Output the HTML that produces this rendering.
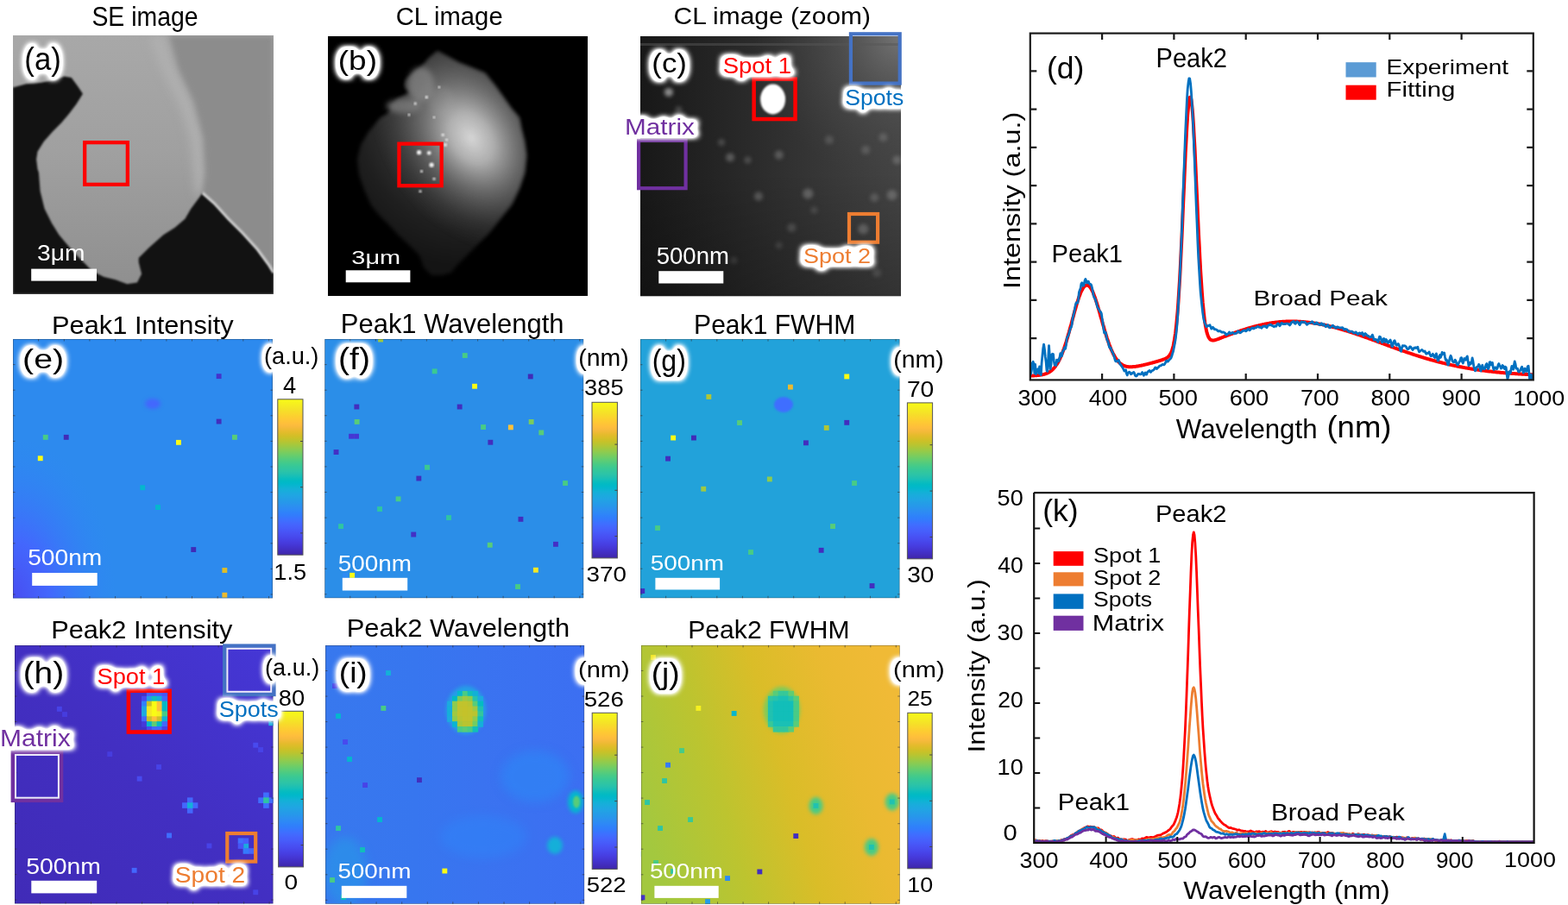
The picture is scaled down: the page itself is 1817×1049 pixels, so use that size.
<!DOCTYPE html>
<html><head><meta charset="utf-8"><title>CL mapping figure</title>
<style>html,body{margin:0;padding:0;background:#fff;overflow:hidden}svg{display:block}</style></head>
<body>
<svg width="1817" height="1049" viewBox="0 0 1817 1049" font-family="'Liberation Sans', Arial, sans-serif"><defs><filter id="gw" x="-40%" y="-40%" width="180%" height="180%" color-interpolation-filters="sRGB">
<feMorphology in="SourceAlpha" operator="dilate" radius="3.2" result="d"/>
<feGaussianBlur in="d" stdDeviation="3.2" result="b"/>
<feComponentTransfer in="b" result="c"><feFuncA type="linear" slope="2.4"/></feComponentTransfer>
<feFlood flood-color="#fff"/><feComposite in2="c" operator="in" result="g"/>
<feMerge><feMergeNode in="g"/><feMergeNode in="SourceGraphic"/></feMerge></filter><filter id="bl05" color-interpolation-filters="sRGB" x="-10%" y="-10%" width="120%" height="120%"><feGaussianBlur stdDeviation="0.6"/></filter><filter id="bl1" color-interpolation-filters="sRGB" x="-20%" y="-20%" width="140%" height="140%"><feGaussianBlur stdDeviation="1"/></filter><filter id="bl2" color-interpolation-filters="sRGB" x="-50%" y="-50%" width="200%" height="200%"><feGaussianBlur stdDeviation="2"/></filter><filter id="bl3" color-interpolation-filters="sRGB" x="-50%" y="-50%" width="200%" height="200%"><feGaussianBlur stdDeviation="3"/></filter><filter id="bl6" color-interpolation-filters="sRGB" x="-50%" y="-50%" width="200%" height="200%"><feGaussianBlur stdDeviation="6"/></filter><clipPath id="ca"><rect x="15" y="41" width="302" height="300"/></clipPath><linearGradient id="ga" x1="0" y1="41" x2="0" y2="341" gradientUnits="userSpaceOnUse"><stop offset="0" stop-color="#a8a8a8"/><stop offset="0.45" stop-color="#a0a0a0"/><stop offset="1" stop-color="#8e8e8e"/></linearGradient><clipPath id="cb"><rect x="380" y="42" width="301" height="301"/></clipPath><radialGradient id="gb0" gradientUnits="userSpaceOnUse" cx="545" cy="135" r="175">
<stop offset="0" stop-color="#5a5a5a"/><stop offset="0.4" stop-color="#3a3a3a"/><stop offset="0.75" stop-color="#1f1f1f"/><stop offset="1" stop-color="#141414"/></radialGradient><radialGradient id="gb" gradientUnits="userSpaceOnUse" cx="546" cy="160" r="130" gradientTransform="translate(546 160) rotate(-35) scale(0.78 1.1) translate(-546 -160)">
<stop offset="0" stop-color="#d6d6d6" stop-opacity="1"/><stop offset="0.22" stop-color="#b8b8b8" stop-opacity="0.92"/><stop offset="0.5" stop-color="#848484" stop-opacity="0.6"/><stop offset="0.78" stop-color="#606060" stop-opacity="0.22"/><stop offset="1" stop-color="#505050" stop-opacity="0"/></radialGradient><clipPath id="cbl"><path d="M507.0 59.0 L531.5 72.5 L562.0 84.7 L574.2 100.0 L585.0 115.2 L592.6 125.9 L601.7 136.6 L604.0 148.8 L607.8 164.0 L610.0 180.0 L608.0 200.0 L602.0 218.0 L593.0 237.0 L581.0 252.0 L567.0 270.0 L552.0 285.0 L538.0 299.0 L529.0 308.0 L523.0 316.0 L512.0 319.0 L500.0 319.0 L491.0 310.0 L486.0 296.0 L474.0 284.0 L462.0 273.0 L451.0 261.0 L439.0 249.0 L430.0 238.0 L422.0 220.0 L416.0 203.0 L414.0 185.0 L418.0 168.0 L427.0 153.0 L440.0 137.0 L450.7 130.5 L459.8 115.2 L475.0 107.6 L469.0 100.0 L470.5 92.3 L485.8 80.1 L498.0 66.4Z"/></clipPath><clipPath id="cc"><rect x="742" y="42" width="302" height="301.5"/></clipPath><linearGradient id="gc" x1="742" y1="0" x2="1044" y2="0" gradientUnits="userSpaceOnUse">
<stop offset="0" stop-color="#181818"/><stop offset="0.35" stop-color="#272727"/><stop offset="0.7" stop-color="#373737"/><stop offset="1" stop-color="#444"/></linearGradient><radialGradient id="gc2" gradientUnits="userSpaceOnUse" cx="1044" cy="42" r="170">
<stop offset="0" stop-color="#7a7a7a" stop-opacity="0.9"/><stop offset="0.45" stop-color="#5a5a5a" stop-opacity="0.5"/><stop offset="1" stop-color="#444" stop-opacity="0"/></radialGradient><linearGradient id="gc3" x1="0" y1="200" x2="0" y2="343" gradientUnits="userSpaceOnUse">
<stop offset="0" stop-color="#000" stop-opacity="0"/><stop offset="1" stop-color="#000" stop-opacity="0.25"/></linearGradient><clipPath id="cd"><rect x="1194" y="39" width="583" height="401"/></clipPath><linearGradient id="cbar" x1="0" y1="0" x2="0" y2="1"><stop offset="0.0000" stop-color="#f9fb15"/><stop offset="0.0159" stop-color="#f7f51b"/><stop offset="0.0317" stop-color="#f6ef20"/><stop offset="0.0476" stop-color="#f5e924"/><stop offset="0.0635" stop-color="#f5e327"/><stop offset="0.0794" stop-color="#f7dc2a"/><stop offset="0.0952" stop-color="#fad62d"/><stop offset="0.1111" stop-color="#fccf30"/><stop offset="0.1270" stop-color="#fec934"/><stop offset="0.1429" stop-color="#fec338"/><stop offset="0.1587" stop-color="#febe3c"/><stop offset="0.1746" stop-color="#f8ba3d"/><stop offset="0.1905" stop-color="#f0ba36"/><stop offset="0.2063" stop-color="#e6bb2d"/><stop offset="0.2222" stop-color="#dcbd29"/><stop offset="0.2381" stop-color="#d1bf27"/><stop offset="0.2540" stop-color="#c5c22a"/><stop offset="0.2698" stop-color="#b9c431"/><stop offset="0.2857" stop-color="#abc739"/><stop offset="0.3016" stop-color="#9dc943"/><stop offset="0.3175" stop-color="#8fcb4e"/><stop offset="0.3333" stop-color="#81cc59"/><stop offset="0.3492" stop-color="#72cd64"/><stop offset="0.3651" stop-color="#64cd6f"/><stop offset="0.3810" stop-color="#57cc7a"/><stop offset="0.3968" stop-color="#4acb84"/><stop offset="0.4127" stop-color="#3fca8e"/><stop offset="0.4286" stop-color="#37c897"/><stop offset="0.4444" stop-color="#31c69f"/><stop offset="0.4603" stop-color="#2cc4a7"/><stop offset="0.4762" stop-color="#24c1ae"/><stop offset="0.4921" stop-color="#19bfb6"/><stop offset="0.5079" stop-color="#0bbdbd"/><stop offset="0.5238" stop-color="#02bac3"/><stop offset="0.5397" stop-color="#01b8ca"/><stop offset="0.5556" stop-color="#08b5d0"/><stop offset="0.5714" stop-color="#12b1d6"/><stop offset="0.5873" stop-color="#18addb"/><stop offset="0.6032" stop-color="#1ca9df"/><stop offset="0.6190" stop-color="#20a5e3"/><stop offset="0.6349" stop-color="#23a0e5"/><stop offset="0.6508" stop-color="#259be8"/><stop offset="0.6667" stop-color="#2797eb"/><stop offset="0.6825" stop-color="#2b91ef"/><stop offset="0.6984" stop-color="#2d8cf3"/><stop offset="0.7143" stop-color="#2e87f7"/><stop offset="0.7302" stop-color="#2f81fa"/><stop offset="0.7460" stop-color="#327cfc"/><stop offset="0.7619" stop-color="#3875fe"/><stop offset="0.7778" stop-color="#3e6fff"/><stop offset="0.7937" stop-color="#4269fe"/><stop offset="0.8095" stop-color="#4563fd"/><stop offset="0.8254" stop-color="#465efb"/><stop offset="0.8413" stop-color="#4758f8"/><stop offset="0.8571" stop-color="#4852f4"/><stop offset="0.8730" stop-color="#484df0"/><stop offset="0.8889" stop-color="#4747eb"/><stop offset="0.9048" stop-color="#4741e5"/><stop offset="0.9206" stop-color="#463cde"/><stop offset="0.9365" stop-color="#4537d5"/><stop offset="0.9524" stop-color="#4332cb"/><stop offset="0.9683" stop-color="#422ec0"/><stop offset="0.9841" stop-color="#402ab4"/><stop offset="1.0000" stop-color="#3e26a8"/></linearGradient><clipPath id="ce"><rect x="15" y="393" width="301" height="300.5"/></clipPath><radialGradient id="ge" gradientUnits="userSpaceOnUse" cx="15" cy="693" r="150" gradientTransform="translate(15 693) scale(0.8 1.25) translate(-15 -693)">
<stop offset="0" stop-color="#484ef1"/><stop offset="0.35" stop-color="#4367fd"/><stop offset="1" stop-color="#2d88f6" stop-opacity="0"/></radialGradient><clipPath id="cf"><rect x="376.2" y="393" width="300.1" height="300.3"/></clipPath><clipPath id="cg"><rect x="742" y="393.1" width="300.6" height="300.2"/></clipPath><clipPath id="ch"><rect x="17" y="748" width="299.6" height="299.6"/></clipPath><linearGradient id="gh" x1="17" y1="1047" x2="316" y2="748" gradientUnits="userSpaceOnUse">
<stop offset="0" stop-color="#402bb7"/><stop offset="0.5" stop-color="#422fc2"/><stop offset="1" stop-color="#4537d6"/></linearGradient><clipPath id="ci"><rect x="377" y="748" width="300.2" height="299.8"/></clipPath><linearGradient id="gi" x1="377" y1="0" x2="677" y2="0" gradientUnits="userSpaceOnUse">
<stop offset="0" stop-color="#3878ee"/><stop offset="0.35" stop-color="#3776ef"/><stop offset="0.6" stop-color="#3a73f0"/><stop offset="1" stop-color="#3c6ff2"/></linearGradient><clipPath id="cj"><rect x="742.9" y="747.9" width="299.9" height="299.9"/></clipPath><linearGradient id="gj" x1="742" y1="940" x2="1043" y2="850" gradientUnits="userSpaceOnUse">
<stop offset="0" stop-color="#a3c83f"/><stop offset="0.3" stop-color="#bdc42f"/><stop offset="0.55" stop-color="#dabd28"/><stop offset="0.8" stop-color="#eaba31"/><stop offset="1" stop-color="#f0ba36"/></linearGradient><clipPath id="ck"><rect x="1199" y="571" width="578.5" height="405.5"/></clipPath></defs><rect width="1817" height="1049" fill="#fff"/><text transform="translate(106.42 29.70) scale(0.9207 1)" font-size="30.86" fill="#000">SE image</text>
<text transform="translate(458.64 28.60) scale(0.9888 1)" font-size="29.57" fill="#000">CL image</text>
<text transform="translate(780.60 27.50) scale(1.1033 1)" font-size="27.14" fill="#000">CL image (zoom)</text>
<text transform="translate(60.03 386.70) scale(1.0173 1)" font-size="30.29" fill="#000">Peak1 Intensity</text>
<text transform="translate(394.82 386.40) scale(1.0081 1)" font-size="30.72" fill="#000">Peak1 Wavelength</text>
<text transform="translate(804.09 386.60) scale(0.9610 1)" font-size="31.30" fill="#000">Peak1 FWHM</text>
<text transform="translate(59.14 739.70) scale(1.0356 1)" font-size="29.71" fill="#000">Peak2 Intensity</text>
<text transform="translate(401.73 738.10) scale(1.0409 1)" font-size="29.71" fill="#000">Peak2 Wavelength</text>
<text transform="translate(797.29 740.40) scale(0.9990 1)" font-size="30.14" fill="#000">Peak2 FWHM</text>
<g clip-path="url(#ca)">
<rect x="15" y="41" width="302" height="300" fill="url(#ga)"/>
<path d="M180 41 L195 80 L215 120 L228 160 L234 225" stroke="#b0b0b0" stroke-width="14" fill="none" filter="url(#bl6)"/>
<path d="M196.0 41.0 L207.0 80.0 L225.0 118.0 L236.0 160.0 L238.0 200.0 L234.0 225.0 L317.0 316.0 L317.0 41.0Z" fill="#8c8c8c" filter="url(#bl3)"/>
<path d="M15.0 101.5 L30.4 97.2 L47.9 95.7 L62.4 92.8 L74.1 88.4 L82.8 89.9 L90.1 100.0 L95.9 108.8 L88.6 120.4 L79.9 132.0 L71.2 142.2 L61.0 152.4 L50.8 164.0 L43.5 175.7 L42.1 184.4 L43.5 196.0 L44.9 200.0 L46.6 221.8 L51.6 242.0 L60.0 258.8 L68.4 272.2 L76.8 282.3 L86.9 294.0 L96.9 304.1 L107.0 314.2 L120.4 320.9 L133.9 324.2 L147.3 329.3 L159.0 327.6 L164.1 317.5 L160.7 304.1 L160.7 299.0 L172.5 287.3 L189.3 272.2 L202.7 263.8 L214.4 253.7 L221.2 242.0 L231.2 228.5 L234.6 223.5 L248.0 235.3 L264.8 253.7 L281.6 270.5 L298.4 289.0 L311.8 307.4 L317.0 316.0 L317.0 341.0 L15.0 341.0Z" fill="#121212" filter="url(#bl1)"/>
<path d="M234.6 223.5 L248 235.3 L264.8 253.7 L281.6 270.5 L298.4 289 L311.8 307.4 L317 316" fill="none" stroke="#d8d8d8" stroke-width="3" filter="url(#bl1)"/>
</g>
<rect x="98.15" y="165.15" width="49.70" height="48.70" fill="none" stroke="#ff0000" stroke-width="4.3"/>
<rect x="36.2" y="311.6" width="75.8" height="14" fill="#fff"/>
<text transform="translate(42.97 302.40) scale(1.1226 1)" font-size="25.14" fill="#fff">3μm</text>
<text transform="translate(28.32 81.34) scale(0.9522 1)" font-size="36.47" fill="#000" filter="url(#gw)">(a)</text>
<g clip-path="url(#cb)">
<rect x="380" y="42" width="301" height="301" fill="#000"/>
<path d="M507.0 59.0 L531.5 72.5 L562.0 84.7 L574.2 100.0 L585.0 115.2 L592.6 125.9 L601.7 136.6 L604.0 148.8 L607.8 164.0 L610.0 180.0 L608.0 200.0 L602.0 218.0 L593.0 237.0 L581.0 252.0 L567.0 270.0 L552.0 285.0 L538.0 299.0 L529.0 308.0 L523.0 316.0 L512.0 319.0 L500.0 319.0 L491.0 310.0 L486.0 296.0 L474.0 284.0 L462.0 273.0 L451.0 261.0 L439.0 249.0 L430.0 238.0 L422.0 220.0 L416.0 203.0 L414.0 185.0 L418.0 168.0 L427.0 153.0 L440.0 137.0 L450.7 130.5 L459.8 115.2 L475.0 107.6 L469.0 100.0 L470.5 92.3 L485.8 80.1 L498.0 66.4Z" fill="url(#gb0)" filter="url(#bl2)"/>
<g filter="url(#bl3)">
<ellipse cx="488" cy="98" rx="15" ry="20" fill="#8a8a8a" opacity="0.8"/>
<ellipse cx="468" cy="123" rx="20" ry="8" fill="#808080" opacity="0.8"/>
<ellipse cx="512" cy="118" rx="14" ry="18" fill="#6a6a6a" opacity="0.7"/>
</g>
<g filter="url(#bl2)"><g clip-path="url(#cbl)"><rect x="380" y="42" width="301" height="301" fill="url(#gb)"/></g></g>
<circle cx="485.6" cy="176.7" r="2.6" fill="#f4f4f4" filter="url(#bl1)"/>
<circle cx="497.2" cy="177.2" r="2.3" fill="#f4f4f4" filter="url(#bl1)"/>
<circle cx="500.1" cy="191.2" r="2.6" fill="#f4f4f4" filter="url(#bl1)"/>
<circle cx="494.3" cy="112.7" r="1.6" fill="#f4f4f4" filter="url(#bl1)"/>
<circle cx="513.2" cy="156.3" r="1.6" fill="#f4f4f4" filter="url(#bl1)"/>
<circle cx="516.1" cy="167.9" r="1.8" fill="#f4f4f4" filter="url(#bl1)"/>
<circle cx="488.5" cy="198.5" r="1.5" fill="#f4f4f4" filter="url(#bl1)"/>
<circle cx="503.0" cy="207.2" r="1.5" fill="#f4f4f4" filter="url(#bl1)"/>
<circle cx="487.0" cy="221.7" r="1.5" fill="#f4f4f4" filter="url(#bl1)"/>
<circle cx="474.0" cy="133.1" r="1.4" fill="#f4f4f4" filter="url(#bl1)"/>
<circle cx="503.0" cy="136.0" r="1.3" fill="#f4f4f4" filter="url(#bl1)"/>
<circle cx="508.9" cy="101.1" r="1.3" fill="#f4f4f4" filter="url(#bl1)"/>
<circle cx="481.2" cy="120.0" r="1.5" fill="#f4f4f4" filter="url(#bl1)"/>
<circle cx="517.6" cy="162.1" r="1.4" fill="#f4f4f4" filter="url(#bl1)"/>
</g>
<rect x="462.45" y="166.65" width="49.20" height="48.60" fill="none" stroke="#ff0000" stroke-width="4.3"/>
<rect x="400.7" y="313.3" width="74.7" height="14" fill="#fff"/>
<text transform="translate(407.34 306.00) scale(1.2655 1)" font-size="22.86" fill="#fff">3μm</text>
<text transform="translate(391.78 81.46) scale(1.1888 1)" font-size="31.12" fill="#000" filter="url(#gw)">(b)</text>
<g clip-path="url(#cc)">
<rect x="742" y="42" width="302" height="301.5" fill="url(#gc)"/>
<rect x="742" y="42" width="302" height="301.5" fill="url(#gc2)"/>
<rect x="742" y="42" width="302" height="301.5" fill="url(#gc3)"/>
<rect x="742" y="50" width="302" height="3" fill="#555" opacity="0.5"/>
<circle cx="774.9" cy="106.9" r="5" fill="#8a8a8a" filter="url(#bl2)"/>
<circle cx="786.5" cy="127.2" r="4" fill="#4a4a4a" filter="url(#bl2)"/>
<circle cx="836.0" cy="165.0" r="4" fill="#4a4a4a" filter="url(#bl2)"/>
<circle cx="846.1" cy="182.5" r="5" fill="#5a5a5a" filter="url(#bl2)"/>
<circle cx="866.5" cy="185.4" r="4" fill="#4e4e4e" filter="url(#bl2)"/>
<circle cx="902.8" cy="179.6" r="5" fill="#5a5a5a" filter="url(#bl2)"/>
<circle cx="879.0" cy="227.6" r="5" fill="#555" filter="url(#bl2)"/>
<circle cx="936.3" cy="224.6" r="6" fill="#606060" filter="url(#bl2)"/>
<circle cx="961.0" cy="162.1" r="5" fill="#555" filter="url(#bl2)"/>
<circle cx="1003.2" cy="173.8" r="5" fill="#5c5c5c" filter="url(#bl2)"/>
<circle cx="1033.7" cy="226.1" r="6" fill="#666" filter="url(#bl2)"/>
<circle cx="917.4" cy="263.9" r="5" fill="#4a4a4a" filter="url(#bl2)"/>
<circle cx="1000.3" cy="265.4" r="6" fill="#5e5e5e" filter="url(#bl2)"/>
<circle cx="1023.5" cy="159.2" r="5" fill="#606060" filter="url(#bl2)"/>
<circle cx="1039.5" cy="185.4" r="5" fill="#666" filter="url(#bl2)"/>
<circle cx="1013.3" cy="229.0" r="5" fill="#5a5a5a" filter="url(#bl2)"/>
<circle cx="943.5" cy="243.5" r="4" fill="#4a4a4a" filter="url(#bl2)"/>
<circle cx="902.8" cy="284.3" r="4" fill="#404040" filter="url(#bl2)"/>
<circle cx="1016.2" cy="316.2" r="5" fill="#4a4a4a" filter="url(#bl2)"/>
<circle cx="850.5" cy="301.7" r="4" fill="#383838" filter="url(#bl2)"/>
<ellipse cx="895.6" cy="115" rx="14.5" ry="17.5" fill="#fff" filter="url(#bl1)"/>
<ellipse cx="895.6" cy="115" rx="12" ry="15" fill="#fff"/>
</g>
<rect x="873.65" y="91.65" width="47.90" height="46.40" fill="none" stroke="#ff0000" stroke-width="4.5"/>
<rect x="985.90" y="39.30" width="56.80" height="57.30" fill="none" stroke="#4472c4" stroke-width="4.2"/>
<rect x="740.10" y="162.80" width="54.50" height="55.40" fill="none" stroke="#7030a0" stroke-width="4.2"/>
<rect x="984.00" y="248.00" width="33.10" height="32.70" fill="none" stroke="#ed7d31" stroke-width="4.2"/>
<rect x="763.3" y="314.2" width="75" height="14.3" fill="#fff"/>
<text transform="translate(760.70 306.00) scale(1.0110 1)" font-size="27.25" fill="#fff">500nm</text>
<text transform="translate(755.31 84.36) scale(1.1192 1)" font-size="31.12" fill="#000" filter="url(#gw)">(c)</text>
<text transform="translate(837.66 85.00) scale(1.1063 1)" font-size="24.86" fill="#ff0000" filter="url(#gw)">Spot 1</text>
<text transform="translate(979.20 121.80) scale(1.0471 1)" font-size="25.43" fill="#0070c0" filter="url(#gw)">Spots</text>
<text transform="translate(724.12 155.50) scale(1.1383 1)" font-size="26.09" fill="#7030a0" filter="url(#gw)">Matrix</text>
<text transform="translate(930.98 304.80) scale(1.0993 1)" font-size="24.57" fill="#ed7d31" filter="url(#gw)">Spot 2</text>
<g clip-path="url(#cd)">
<path d="M1193.8 435.5 1194.6 435.5 1195.5 435.5 1196.3 435.4 1197.1 435.4 1198.0 435.4 1198.8 435.3 1199.6 435.3 1200.5 435.2 1201.3 435.2 1202.1 435.1 1203.0 435.0 1203.8 434.9 1204.6 434.8 1205.5 434.7 1206.3 434.6 1207.1 434.4 1208.0 434.3 1208.8 434.1 1209.6 433.9 1210.5 433.7 1211.3 433.4 1212.1 433.1 1213.0 432.8 1213.8 432.4 1214.6 432.0 1215.5 431.6 1216.3 431.1 1217.1 430.5 1218.0 429.9 1218.8 429.2 1219.6 428.5 1220.5 427.6 1221.3 426.7 1222.1 425.8 1223.0 424.7 1223.8 423.5 1224.6 422.3 1225.5 421.0 1226.3 419.5 1227.1 418.0 1228.0 416.3 1228.8 414.5 1229.6 412.7 1230.5 410.7 1231.3 408.6 1232.1 406.3 1233.0 404.0 1233.8 401.6 1234.6 399.1 1235.5 396.4 1236.3 393.7 1237.1 390.9 1237.9 388.0 1238.8 385.1 1239.6 382.1 1240.4 379.0 1241.3 376.0 1242.1 372.9 1242.9 369.8 1243.8 366.7 1244.6 363.6 1245.4 360.6 1246.3 357.6 1247.1 354.7 1247.9 351.9 1248.8 349.2 1249.6 346.6 1250.4 344.2 1251.3 341.9 1252.1 339.8 1252.9 337.9 1253.8 336.2 1254.6 334.7 1255.4 333.4 1256.3 332.3 1257.1 331.5 1257.9 330.9 1258.8 330.6 1259.6 330.5 1260.4 330.7 1261.3 331.1 1262.1 331.7 1262.9 332.6 1263.8 333.7 1264.6 335.1 1265.4 336.6 1266.3 338.3 1267.1 340.3 1267.9 342.4 1268.8 344.7 1269.6 347.1 1270.4 349.6 1271.3 352.3 1272.1 355.0 1272.9 357.8 1273.8 360.7 1274.6 363.7 1275.4 366.6 1276.3 369.6 1277.1 372.6 1277.9 375.5 1278.8 378.4 1279.6 381.3 1280.4 384.1 1281.3 386.9 1282.1 389.6 1282.9 392.1 1283.8 394.7 1284.6 397.1 1285.4 399.4 1286.3 401.6 1287.1 403.7 1287.9 405.6 1288.8 407.5 1289.6 409.3 1290.4 410.9 1291.3 412.4 1292.1 413.9 1292.9 415.2 1293.8 416.4 1294.6 417.5 1295.4 418.5 1296.3 419.4 1297.1 420.3 1297.9 421.0 1298.8 421.7 1299.6 422.3 1300.4 422.8 1301.3 423.3 1302.1 423.7 1302.9 424.0 1303.8 424.3 1304.6 424.6 1305.4 424.8 1306.3 424.9 1307.1 425.1 1307.9 425.2 1308.8 425.2 1309.6 425.2 1310.4 425.3 1311.3 425.2 1312.1 425.2 1312.9 425.1 1313.8 425.1 1314.6 425.0 1315.4 424.9 1316.3 424.8 1317.1 424.6 1317.9 424.5 1318.8 424.4 1319.6 424.2 1320.4 424.1 1321.2 423.9 1322.1 423.7 1322.9 423.5 1323.7 423.4 1324.6 423.2 1325.4 423.0 1326.2 422.8 1327.1 422.6 1327.9 422.4 1328.7 422.2 1329.6 422.0 1330.4 421.8 1331.2 421.6 1332.1 421.3 1332.9 421.1 1333.7 420.9 1334.6 420.7 1335.4 420.5 1336.2 420.2 1337.1 420.0 1337.9 419.8 1338.7 419.5 1339.6 419.3 1340.4 419.1 1341.2 418.8 1342.1 418.6 1342.9 418.3 1343.7 418.1 1344.6 417.8 1345.4 417.6 1346.2 417.3 1347.1 417.0 1347.9 416.7 1348.7 416.4 1349.6 416.1 1350.4 415.7 1351.2 415.3 1352.1 414.9 1352.9 414.3 1353.7 413.6 1354.6 412.8 1355.4 411.7 1356.2 410.4 1357.1 408.8 1357.9 406.8 1358.7 404.2 1359.6 401.0 1360.4 397.0 1361.2 392.2 1362.1 386.3 1362.9 379.3 1363.7 371.0 1364.6 361.3 1365.4 350.1 1366.2 337.5 1367.1 323.3 1367.9 307.7 1368.7 290.8 1369.6 272.8 1370.4 254.0 1371.2 234.6 1372.1 215.2 1372.9 196.2 1373.7 178.0 1374.6 161.1 1375.4 146.2 1376.2 133.5 1377.1 123.5 1377.9 116.6 1378.7 112.9 1379.6 112.6 1380.4 115.6 1381.2 121.9 1382.1 131.2 1382.9 143.3 1383.7 157.6 1384.6 173.8 1385.4 191.4 1386.2 209.8 1387.1 228.6 1387.9 247.3 1388.7 265.5 1389.6 282.8 1390.4 299.1 1391.2 314.1 1392.1 327.6 1392.9 339.6 1393.7 350.2 1394.6 359.2 1395.4 366.9 1396.2 373.3 1397.1 378.5 1397.9 382.8 1398.7 386.1 1399.6 388.7 1400.4 390.6 1401.2 392.1 1402.0 393.1 1402.9 393.8 1403.7 394.2 1404.5 394.5 1405.4 394.5 1406.2 394.5 1407.0 394.4 1407.9 394.2 1408.7 393.9 1409.5 393.7 1410.4 393.4 1411.2 393.1 1412.0 392.8 1412.9 392.5 1413.7 392.1 1414.5 391.8 1415.4 391.5 1416.2 391.2 1417.0 390.9 1417.9 390.5 1418.7 390.2 1419.5 389.9 1420.4 389.6 1421.2 389.3 1422.0 388.9 1422.9 388.6 1423.7 388.3 1424.5 388.0 1425.4 387.7 1426.2 387.4 1427.0 387.1 1427.9 386.8 1428.7 386.4 1429.5 386.1 1430.4 385.8 1431.2 385.5 1432.0 385.3 1432.9 385.0 1433.7 384.7 1434.5 384.4 1435.4 384.1 1436.2 383.8 1437.0 383.5 1437.9 383.2 1438.7 383.0 1439.5 382.7 1440.4 382.4 1441.2 382.1 1442.0 381.9 1442.9 381.6 1443.7 381.3 1444.5 381.1 1445.4 380.8 1446.2 380.6 1447.0 380.3 1447.9 380.1 1448.7 379.8 1449.5 379.6 1450.4 379.4 1451.2 379.1 1452.0 378.9 1452.9 378.7 1453.7 378.4 1454.5 378.2 1455.4 378.0 1456.2 377.8 1457.0 377.6 1457.9 377.4 1458.7 377.2 1459.5 377.0 1460.4 376.8 1461.2 376.6 1462.0 376.4 1462.9 376.2 1463.7 376.0 1464.5 375.9 1465.4 375.7 1466.2 375.5 1467.0 375.4 1467.9 375.2 1468.7 375.1 1469.5 374.9 1470.4 374.8 1471.2 374.6 1472.0 374.5 1472.9 374.4 1473.7 374.2 1474.5 374.1 1475.4 374.0 1476.2 373.9 1477.0 373.8 1477.9 373.7 1478.7 373.5 1479.5 373.5 1480.4 373.4 1481.2 373.3 1482.0 373.2 1482.9 373.1 1483.7 373.0 1484.5 373.0 1485.3 372.9 1486.2 372.8 1487.0 372.8 1487.8 372.7 1488.7 372.7 1489.5 372.7 1490.3 372.6 1491.2 372.6 1492.0 372.6 1492.8 372.5 1493.7 372.5 1494.5 372.5 1495.3 372.5 1496.2 372.5 1497.0 372.5 1497.8 372.5 1498.7 372.5 1499.5 372.5 1500.3 372.6 1501.2 372.6 1502.0 372.6 1502.8 372.6 1503.7 372.7 1504.5 372.7 1505.3 372.7 1506.2 372.8 1507.0 372.8 1507.8 372.9 1508.7 373.0 1509.5 373.0 1510.3 373.1 1511.2 373.2 1512.0 373.2 1512.8 373.3 1513.7 373.4 1514.5 373.5 1515.3 373.6 1516.2 373.7 1517.0 373.8 1517.8 373.9 1518.7 374.0 1519.5 374.1 1520.3 374.2 1521.2 374.3 1522.0 374.4 1522.8 374.5 1523.7 374.7 1524.5 374.8 1525.3 374.9 1526.2 375.1 1527.0 375.2 1527.8 375.4 1528.7 375.5 1529.5 375.7 1530.3 375.8 1531.2 376.0 1532.0 376.1 1532.8 376.3 1533.7 376.5 1534.5 376.7 1535.3 376.8 1536.2 377.0 1537.0 377.2 1537.8 377.4 1538.7 377.6 1539.5 377.8 1540.3 378.0 1541.2 378.2 1542.0 378.4 1542.8 378.6 1543.7 378.8 1544.5 379.0 1545.3 379.2 1546.2 379.4 1547.0 379.6 1547.8 379.8 1548.7 380.1 1549.5 380.3 1550.3 380.5 1551.2 380.8 1552.0 381.0 1552.8 381.2 1553.7 381.5 1554.5 381.7 1555.3 382.0 1556.2 382.2 1557.0 382.5 1557.8 382.7 1558.7 383.0 1559.5 383.2 1560.3 383.5 1561.2 383.7 1562.0 384.0 1562.8 384.3 1563.7 384.5 1564.5 384.8 1565.3 385.1 1566.2 385.3 1567.0 385.6 1567.8 385.9 1568.6 386.2 1569.5 386.4 1570.3 386.7 1571.1 387.0 1572.0 387.3 1572.8 387.6 1573.6 387.9 1574.5 388.1 1575.3 388.4 1576.1 388.7 1577.0 389.0 1577.8 389.3 1578.6 389.6 1579.5 389.9 1580.3 390.2 1581.1 390.5 1582.0 390.8 1582.8 391.1 1583.6 391.4 1584.5 391.7 1585.3 392.0 1586.1 392.3 1587.0 392.6 1587.8 392.9 1588.6 393.2 1589.5 393.5 1590.3 393.8 1591.1 394.1 1592.0 394.4 1592.8 394.7 1593.6 395.0 1594.5 395.3 1595.3 395.6 1596.1 395.9 1597.0 396.3 1597.8 396.6 1598.6 396.9 1599.5 397.2 1600.3 397.5 1601.1 397.8 1602.0 398.1 1602.8 398.4 1603.6 398.7 1604.5 399.0 1605.3 399.3 1606.1 399.6 1607.0 399.9 1607.8 400.3 1608.6 400.6 1609.5 400.9 1610.3 401.2 1611.1 401.5 1612.0 401.8 1612.8 402.1 1613.6 402.4 1614.5 402.7 1615.3 403.0 1616.1 403.3 1617.0 403.6 1617.8 403.9 1618.6 404.2 1619.5 404.5 1620.3 404.8 1621.1 405.1 1622.0 405.4 1622.8 405.7 1623.6 406.0 1624.5 406.3 1625.3 406.6 1626.1 406.9 1627.0 407.1 1627.8 407.4 1628.6 407.7 1629.5 408.0 1630.3 408.3 1631.1 408.6 1632.0 408.9 1632.8 409.1 1633.6 409.4 1634.5 409.7 1635.3 410.0 1636.1 410.3 1637.0 410.5 1637.8 410.8 1638.6 411.1 1639.5 411.4 1640.3 411.6 1641.1 411.9 1642.0 412.2 1642.8 412.4 1643.6 412.7 1644.5 413.0 1645.3 413.2 1646.1 413.5 1647.0 413.7 1647.8 414.0 1648.6 414.3 1649.5 414.5 1650.3 414.8 1651.1 415.0 1651.9 415.3 1652.8 415.5 1653.6 415.8 1654.4 416.0 1655.3 416.2 1656.1 416.5 1656.9 416.7 1657.8 417.0 1658.6 417.2 1659.4 417.4 1660.3 417.7 1661.1 417.9 1661.9 418.1 1662.8 418.3 1663.6 418.6 1664.4 418.8 1665.3 419.0 1666.1 419.2 1666.9 419.5 1667.8 419.7 1668.6 419.9 1669.4 420.1 1670.3 420.3 1671.1 420.5 1671.9 420.7 1672.8 420.9 1673.6 421.1 1674.4 421.3 1675.3 421.5 1676.1 421.7 1676.9 421.9 1677.8 422.1 1678.6 422.3 1679.4 422.5 1680.3 422.7 1681.1 422.9 1681.9 423.1 1682.8 423.3 1683.6 423.4 1684.4 423.6 1685.3 423.8 1686.1 424.0 1686.9 424.1 1687.8 424.3 1688.6 424.5 1689.4 424.7 1690.3 424.8 1691.1 425.0 1691.9 425.2 1692.8 425.3 1693.6 425.5 1694.4 425.6 1695.3 425.8 1696.1 425.9 1696.9 426.1 1697.8 426.3 1698.6 426.4 1699.4 426.6 1700.3 426.7 1701.1 426.8 1701.9 427.0 1702.8 427.1 1703.6 427.3 1704.4 427.4 1705.3 427.5 1706.1 427.7 1706.9 427.8 1707.8 427.9 1708.6 428.1 1709.4 428.2 1710.3 428.3 1711.1 428.5 1711.9 428.6 1712.8 428.7 1713.6 428.8 1714.4 428.9 1715.3 429.1 1716.1 429.2 1716.9 429.3 1717.8 429.4 1718.6 429.5 1719.4 429.6 1720.3 429.7 1721.1 429.8 1721.9 429.9 1722.8 430.0 1723.6 430.2 1724.4 430.3 1725.3 430.4 1726.1 430.5 1726.9 430.5 1727.8 430.6 1728.6 430.7 1729.4 430.8 1730.3 430.9 1731.1 431.0 1731.9 431.1 1732.8 431.2 1733.6 431.3 1734.4 431.4 1735.2 431.4 1736.1 431.5 1736.9 431.6 1737.7 431.7 1738.6 431.8 1739.4 431.9 1740.2 431.9 1741.1 432.0 1741.9 432.1 1742.7 432.2 1743.6 432.2 1744.4 432.3 1745.2 432.4 1746.1 432.4 1746.9 432.5 1747.7 432.6 1748.6 432.6 1749.4 432.7 1750.2 432.8 1751.1 432.8 1751.9 432.9 1752.7 432.9 1753.6 433.0 1754.4 433.1 1755.2 433.1 1756.1 433.2 1756.9 433.2 1757.7 433.3 1758.6 433.3 1759.4 433.4 1760.2 433.5 1761.1 433.5 1761.9 433.6 1762.7 433.6 1763.6 433.7 1764.4 433.7 1765.2 433.7 1766.1 433.8 1766.9 433.8 1767.7 433.9 1768.6 433.9 1769.4 434.0 1770.2 434.0 1771.1 434.1 1771.9 434.1 1772.7 434.1 1773.6 434.2 1774.4 434.2 1775.2 434.2 1776.1 434.3 1776.9 434.3" fill="none" stroke="#ff0000" stroke-width="4" stroke-linejoin="round"/>
<path d="M1193.8 433.7 1194.6 433.6 1195.5 428.8 1196.3 420.9 1197.1 419.3 1198.0 421.7 1198.8 432.6 1199.6 422.4 1200.5 433.7 1201.3 428.1 1202.1 431.0 1203.0 427.6 1203.8 432.9 1204.6 424.8 1205.5 433.1 1206.3 434.5 1207.1 420.8 1208.0 411.3 1208.8 403.5 1209.6 399.1 1210.5 405.1 1211.3 413.9 1212.1 419.5 1213.0 429.7 1213.8 430.3 1214.6 417.3 1215.5 400.7 1216.3 411.6 1217.1 427.7 1218.0 422.7 1218.8 411.1 1219.6 410.2 1220.5 410.6 1221.3 418.7 1222.1 423.1 1223.0 421.7 1223.8 423.5 1224.6 417.1 1225.5 419.3 1226.3 416.9 1227.1 418.4 1228.0 414.0 1228.8 409.7 1229.6 413.2 1230.5 412.6 1231.3 407.5 1232.1 406.7 1233.0 404.6 1233.8 402.6 1234.6 404.2 1235.5 399.3 1236.3 391.8 1237.1 390.3 1237.9 389.3 1238.8 386.2 1239.6 383.5 1240.4 380.5 1241.3 379.3 1242.1 376.4 1242.9 370.0 1243.8 365.6 1244.6 362.6 1245.4 358.4 1246.3 353.5 1247.1 350.8 1247.9 350.7 1248.8 351.1 1249.6 347.0 1250.4 338.9 1251.3 336.1 1252.1 334.4 1252.9 329.1 1253.8 327.8 1254.6 330.1 1255.4 331.4 1256.3 329.2 1257.1 325.1 1257.9 323.5 1258.8 325.7 1259.6 328.0 1260.4 326.3 1261.3 326.1 1262.1 328.4 1262.9 329.5 1263.8 329.4 1264.6 330.4 1265.4 333.3 1266.3 337.6 1267.1 342.4 1267.9 344.7 1268.8 345.8 1269.6 348.0 1270.4 350.7 1271.3 354.3 1272.1 356.9 1272.9 357.8 1273.8 359.1 1274.6 361.4 1275.4 361.3 1276.3 363.3 1277.1 369.0 1277.9 373.8 1278.8 380.6 1279.6 385.9 1280.4 384.6 1281.3 385.5 1282.1 390.5 1282.9 394.0 1283.8 395.4 1284.6 398.1 1285.4 402.2 1286.3 403.4 1287.1 403.2 1287.9 405.8 1288.8 407.9 1289.6 409.0 1290.4 411.3 1291.3 413.9 1292.1 417.2 1292.9 418.9 1293.8 418.6 1294.6 419.0 1295.4 418.6 1296.3 417.4 1297.1 419.8 1297.9 422.2 1298.8 422.6 1299.6 424.3 1300.4 425.4 1301.3 426.9 1302.1 428.4 1302.9 430.0 1303.8 429.4 1304.6 428.8 1305.4 433.0 1306.3 434.9 1307.1 432.6 1307.9 431.5 1308.8 431.2 1309.6 432.0 1310.4 433.7 1311.3 433.4 1312.1 432.5 1312.9 432.0 1313.8 431.4 1314.6 432.7 1315.4 435.2 1316.3 436.0 1317.1 435.9 1317.9 434.9 1318.8 433.4 1319.6 433.3 1320.4 433.6 1321.2 433.9 1322.1 433.8 1322.9 432.8 1323.7 431.6 1324.6 433.2 1325.4 435.2 1326.2 433.3 1327.1 431.9 1327.9 434.0 1328.7 434.1 1329.6 431.6 1330.4 430.8 1331.2 430.0 1332.1 429.5 1332.9 431.1 1333.7 431.3 1334.6 430.0 1335.4 429.4 1336.2 429.3 1337.1 428.5 1337.9 427.4 1338.7 426.0 1339.6 426.2 1340.4 427.5 1341.2 426.7 1342.1 425.9 1342.9 425.2 1343.7 424.0 1344.6 423.8 1345.4 423.9 1346.2 423.0 1347.1 422.3 1347.9 422.5 1348.7 422.9 1349.6 422.2 1350.4 420.7 1351.2 418.7 1352.1 418.0 1352.9 419.1 1353.7 418.9 1354.6 417.4 1355.4 416.6 1356.2 416.0 1357.1 414.7 1357.9 412.5 1358.7 409.9 1359.6 407.0 1360.4 402.8 1361.2 398.7 1362.1 393.7 1362.9 387.2 1363.7 379.4 1364.6 368.2 1365.4 353.8 1366.2 339.2 1367.1 324.0 1367.9 305.9 1368.7 286.3 1369.6 265.0 1370.4 240.7 1371.2 217.1 1372.1 195.4 1372.9 173.5 1373.7 152.2 1374.6 133.1 1375.4 116.2 1376.2 103.4 1377.1 95.3 1377.9 90.8 1378.7 91.1 1379.6 96.9 1380.4 106.4 1381.2 118.8 1382.1 134.0 1382.9 152.2 1383.7 172.6 1384.6 194.4 1385.4 216.8 1386.2 238.6 1387.1 259.8 1387.9 280.3 1388.7 298.0 1389.6 312.8 1390.4 326.7 1391.2 338.7 1392.1 347.7 1392.9 355.1 1393.7 362.2 1394.6 368.2 1395.4 372.0 1396.2 374.5 1397.1 376.8 1397.9 378.7 1398.7 378.5 1399.6 377.5 1400.4 377.7 1401.2 377.0 1402.0 376.7 1402.9 379.1 1403.7 381.1 1404.5 380.5 1405.4 379.3 1406.2 380.0 1407.0 381.5 1407.9 381.8 1408.7 381.7 1409.5 382.0 1410.4 382.7 1411.2 383.6 1412.0 384.0 1412.9 383.6 1413.7 383.6 1414.5 384.2 1415.4 384.9 1416.2 385.3 1417.0 384.9 1417.9 385.2 1418.7 385.5 1419.5 385.9 1420.4 387.8 1421.2 388.2 1422.0 387.2 1422.9 387.3 1423.7 386.4 1424.5 385.0 1425.4 385.9 1426.2 386.7 1427.0 386.2 1427.9 385.5 1428.7 385.6 1429.5 386.3 1430.4 386.9 1431.2 386.5 1432.0 386.3 1432.9 386.3 1433.7 385.2 1434.5 383.8 1435.4 383.8 1436.2 385.4 1437.0 385.9 1437.9 385.4 1438.7 384.7 1439.5 384.0 1440.4 383.5 1441.2 383.0 1442.0 382.8 1442.9 383.3 1443.7 383.9 1444.5 383.3 1445.4 382.1 1446.2 381.3 1447.0 381.7 1447.9 382.8 1448.7 382.4 1449.5 381.3 1450.4 380.4 1451.2 379.9 1452.0 380.6 1452.9 381.0 1453.7 380.3 1454.5 379.8 1455.4 379.9 1456.2 379.3 1457.0 378.5 1457.9 378.5 1458.7 379.1 1459.5 379.4 1460.4 379.2 1461.2 379.8 1462.0 380.2 1462.9 378.9 1463.7 378.1 1464.5 378.4 1465.4 378.1 1466.2 377.7 1467.0 378.9 1467.9 379.7 1468.7 378.4 1469.5 377.1 1470.4 376.9 1471.2 376.9 1472.0 376.1 1472.9 376.4 1473.7 377.4 1474.5 377.3 1475.4 378.1 1476.2 378.7 1477.0 377.8 1477.9 378.0 1478.7 378.3 1479.5 376.8 1480.4 375.2 1481.2 374.9 1482.0 376.2 1482.9 377.7 1483.7 376.9 1484.5 375.1 1485.3 374.4 1486.2 375.0 1487.0 375.5 1487.8 375.5 1488.7 375.6 1489.5 375.5 1490.3 375.1 1491.2 375.1 1492.0 375.2 1492.8 375.2 1493.7 376.1 1494.5 376.9 1495.3 376.1 1496.2 374.3 1497.0 373.4 1497.8 373.4 1498.7 372.4 1499.5 372.8 1500.3 374.9 1501.2 375.3 1502.0 373.8 1502.8 372.7 1503.7 373.0 1504.5 373.8 1505.3 375.5 1506.2 376.6 1507.0 375.1 1507.8 373.2 1508.7 372.9 1509.5 373.6 1510.3 373.6 1511.2 373.2 1512.0 373.4 1512.8 373.9 1513.7 375.3 1514.5 376.3 1515.3 375.7 1516.2 374.8 1517.0 374.7 1517.8 374.5 1518.7 374.1 1519.5 373.6 1520.3 372.8 1521.2 373.3 1522.0 374.9 1522.8 375.3 1523.7 375.7 1524.5 375.4 1525.3 373.8 1526.2 374.0 1527.0 375.5 1527.8 375.9 1528.7 376.1 1529.5 376.7 1530.3 376.1 1531.2 374.7 1532.0 375.2 1532.8 376.9 1533.7 376.5 1534.5 375.8 1535.3 377.5 1536.2 378.8 1537.0 378.5 1537.8 377.5 1538.7 376.5 1539.5 377.7 1540.3 379.6 1541.2 379.8 1542.0 379.3 1542.8 378.6 1543.7 377.6 1544.5 377.1 1545.3 378.3 1546.2 379.3 1547.0 379.2 1547.8 380.2 1548.7 380.1 1549.5 378.9 1550.3 379.0 1551.2 379.7 1552.0 380.1 1552.8 379.9 1553.7 379.9 1554.5 380.1 1555.3 379.7 1556.2 380.0 1557.0 381.7 1557.8 382.3 1558.7 381.4 1559.5 381.6 1560.3 381.8 1561.2 382.3 1562.0 383.5 1562.8 384.3 1563.7 384.7 1564.5 384.3 1565.3 384.2 1566.2 384.2 1567.0 384.3 1567.8 385.2 1568.6 385.8 1569.5 386.1 1570.3 385.6 1571.1 384.9 1572.0 385.7 1572.8 387.1 1573.6 387.5 1574.5 386.6 1575.3 385.8 1576.1 386.0 1577.0 387.0 1577.8 386.1 1578.6 385.5 1579.5 388.2 1580.3 389.3 1581.1 387.2 1582.0 386.5 1582.8 387.2 1583.6 388.2 1584.5 389.4 1585.3 389.1 1586.1 389.6 1587.0 390.8 1587.8 390.9 1588.6 390.9 1589.5 389.7 1590.3 388.1 1591.1 390.0 1592.0 393.8 1592.8 394.0 1593.6 393.2 1594.5 393.6 1595.3 393.9 1596.1 395.6 1597.0 396.5 1597.8 392.9 1598.6 390.2 1599.5 390.6 1600.3 392.5 1601.1 396.3 1602.0 396.9 1602.8 393.6 1603.6 392.4 1604.5 395.7 1605.3 396.3 1606.1 393.4 1607.0 394.4 1607.8 396.8 1608.6 397.6 1609.5 396.5 1610.3 395.0 1611.1 394.1 1612.0 396.5 1612.8 401.5 1613.6 401.8 1614.5 398.5 1615.3 395.5 1616.1 394.7 1617.0 397.3 1617.8 399.8 1618.6 400.3 1619.5 399.3 1620.3 398.5 1621.1 399.9 1622.0 402.7 1622.8 406.4 1623.6 407.2 1624.5 403.1 1625.3 400.6 1626.1 401.1 1627.0 400.7 1627.8 400.8 1628.6 401.3 1629.5 401.9 1630.3 403.9 1631.1 404.8 1632.0 404.5 1632.8 403.6 1633.6 401.9 1634.5 401.8 1635.3 403.0 1636.1 404.2 1637.0 405.5 1637.8 404.6 1638.6 403.1 1639.5 403.4 1640.3 402.8 1641.1 403.5 1642.0 403.2 1642.8 402.2 1643.6 405.4 1644.5 407.9 1645.3 407.2 1646.1 406.5 1647.0 405.8 1647.8 405.5 1648.6 406.3 1649.5 407.4 1650.3 407.3 1651.1 406.9 1651.9 408.9 1652.8 410.2 1653.6 409.3 1654.4 409.7 1655.3 409.2 1656.1 407.9 1656.9 410.3 1657.8 412.6 1658.6 412.8 1659.4 412.0 1660.3 410.3 1661.1 411.3 1661.9 413.9 1662.8 414.5 1663.6 411.7 1664.4 409.9 1665.3 413.9 1666.1 418.1 1666.9 417.7 1667.8 413.5 1668.6 411.4 1669.4 414.3 1670.3 411.9 1671.1 408.3 1671.9 410.5 1672.8 409.9 1673.6 409.0 1674.4 413.6 1675.3 417.5 1676.1 416.7 1676.9 418.4 1677.8 423.1 1678.6 422.6 1679.4 418.0 1680.3 414.3 1681.1 412.3 1681.9 414.1 1682.8 418.0 1683.6 419.2 1684.4 419.8 1685.3 419.6 1686.1 417.2 1686.9 418.0 1687.8 421.1 1688.6 422.6 1689.4 423.0 1690.3 421.1 1691.1 419.3 1691.9 418.5 1692.8 415.0 1693.6 414.6 1694.4 419.1 1695.3 421.0 1696.1 418.6 1696.9 415.5 1697.8 416.2 1698.6 417.2 1699.4 414.3 1700.3 412.9 1701.1 418.2 1701.9 423.8 1702.8 422.8 1703.6 420.3 1704.4 421.8 1705.3 419.9 1706.1 414.9 1706.9 418.4 1707.8 424.5 1708.6 427.4 1709.4 429.9 1710.3 428.7 1711.1 425.6 1711.9 425.1 1712.8 424.7 1713.6 422.4 1714.4 423.4 1715.3 428.6 1716.1 430.1 1716.9 425.6 1717.8 423.3 1718.6 426.0 1719.4 427.8 1720.3 427.7 1721.1 426.6 1721.9 422.8 1722.8 421.6 1723.6 424.3 1724.4 427.7 1725.3 426.2 1726.1 419.8 1726.9 419.7 1727.8 423.0 1728.6 420.6 1729.4 420.5 1730.3 426.3 1731.1 428.6 1731.9 426.4 1732.8 425.8 1733.6 427.1 1734.4 427.7 1735.2 426.8 1736.1 422.8 1736.9 421.6 1737.7 423.7 1738.6 424.8 1739.4 427.1 1740.2 426.2 1741.1 423.5 1741.9 424.2 1742.7 426.6 1743.6 427.6 1744.4 425.1 1745.2 426.0 1746.1 433.5 1746.9 439.2 1747.7 437.1 1748.6 430.9 1749.4 430.5 1750.2 432.5 1751.1 428.0 1751.9 424.4 1752.7 427.3 1753.6 428.2 1754.4 423.3 1755.2 419.0 1756.1 422.0 1756.9 427.1 1757.7 427.0 1758.6 427.4 1759.4 430.5 1760.2 431.0 1761.1 430.0 1761.9 429.1 1762.7 426.8 1763.6 425.3 1764.4 427.8 1765.2 432.1 1766.1 430.8 1766.9 427.2 1767.7 427.7 1768.6 430.5 1769.4 430.1 1770.2 424.9 1771.1 424.2 1771.9 432.6 1772.7 440.5 1773.6 439.1 1774.4 434.2 1775.2 437.7 1776.1 440.0 1776.9 434.9" fill="none" stroke="#0070c0" stroke-width="2.8" stroke-linejoin="round"/>
</g>
<rect x="1193.8" y="38.6" width="583" height="401.8" fill="none" stroke="#1a1a1a" stroke-width="2.2"/>
<path d="M1277.1 440.4v-7.5M1277.1 38.6v7.5M1360.4 440.4v-7.5M1360.4 38.6v7.5M1443.7 440.4v-7.5M1443.7 38.6v7.5M1527.0 440.4v-7.5M1527.0 38.6v7.5M1610.3 440.4v-7.5M1610.3 38.6v7.5M1693.6 440.4v-7.5M1693.6 38.6v7.5M1193.8 82.3h7.5M1776.8 82.3h-7.5M1193.8 126.6h7.5M1776.8 126.6h-7.5M1193.8 170.8h7.5M1776.8 170.8h-7.5M1193.8 215.1h7.5M1776.8 215.1h-7.5M1193.8 259.4h7.5M1776.8 259.4h-7.5M1193.8 303.7h7.5M1776.8 303.7h-7.5M1193.8 347.9h7.5M1776.8 347.9h-7.5M1193.8 392.2h7.5M1776.8 392.2h-7.5" stroke="#1a1a1a" stroke-width="2.2" fill="none"/>
<rect x="1559.5" y="72.2" width="35.2" height="17.3" fill="#5b9bd5"/>
<rect x="1559.5" y="98.7" width="35.2" height="17" fill="#ff0000"/>
<text transform="translate(1606.56 86.20) scale(1.1435 1)" font-size="24.49" fill="#000">Experiment</text>
<text transform="translate(1606.45 112.10) scale(1.2277 1)" font-size="23.91" fill="#000">Fitting</text>
<text transform="translate(1212.97 90.51) scale(1.0102 1)" font-size="35.19" fill="#000">(d)</text>
<text transform="translate(1339.58 77.50) scale(0.9413 1)" font-size="30.87" fill="#000">Peak2</text>
<text transform="translate(1218.57 304.40) scale(0.9740 1)" font-size="29.86" fill="#000">Peak1</text>
<text transform="translate(1452.52 354.20) scale(1.2369 1)" font-size="24.06" fill="#000">Broad Peak</text>
<text transform="translate(1179.42 470.20) scale(1.0695 1)" font-size="25.29" fill="#000">300</text>
<text transform="translate(1261.77 470.20) scale(1.0538 1)" font-size="25.29" fill="#000">400</text>
<text transform="translate(1342.41 470.20) scale(1.0795 1)" font-size="25.29" fill="#000">500</text>
<text transform="translate(1424.84 470.20) scale(1.0738 1)" font-size="25.29" fill="#000">600</text>
<text transform="translate(1506.96 470.20) scale(1.0638 1)" font-size="25.29" fill="#000">700</text>
<text transform="translate(1588.57 470.20) scale(1.0779 1)" font-size="25.29" fill="#000">800</text>
<text transform="translate(1670.78 470.20) scale(1.0704 1)" font-size="25.29" fill="#000">900</text>
<text transform="translate(1753.38 469.60) scale(1.1229 1)" font-size="24.00" fill="#000">1000</text>
<text transform="translate(1362.84 508.20) scale(1.0107 1)" font-size="30.90" fill="#000">Wavelength</text>
<text transform="translate(1537.41 506.99) scale(1.0350 1)" font-size="35.29" fill="#000">(nm)</text>
<text transform="translate(1181.50 332.20) rotate(-90) translate(-2.92 0) scale(1.1841 1)" font-size="27.39" fill="#000">Intensity (a.u.)</text>
<g clip-path="url(#ce)">
<rect x="15" y="393" width="301" height="300.5" fill="#2d8aee"/>
<rect x="15" y="393" width="301" height="300.5" fill="url(#ge)"/>
<ellipse cx="177" cy="468" rx="9" ry="6" fill="#4367fd" filter="url(#bl2)"/>
<rect x="43.8" y="528.3" width="5.88" height="5.88" fill="#f9fb15"/>
<rect x="204.0" y="509.9" width="5.88" height="5.88" fill="#f9fb15"/>
<rect x="49.8" y="503.9" width="5.88" height="5.88" fill="#48cb86"/>
<rect x="269.0" y="503.9" width="5.88" height="5.88" fill="#58cc79"/>
<rect x="73.8" y="503.9" width="5.88" height="5.88" fill="#402bb7"/>
<rect x="250.7" y="433.2" width="5.88" height="5.88" fill="#4433cc"/>
<rect x="250.7" y="485.6" width="5.88" height="5.88" fill="#422ebe"/>
<rect x="221.3" y="634.1" width="5.88" height="5.88" fill="#402bb7"/>
<rect x="257.4" y="658.1" width="5.88" height="5.88" fill="#debd29"/>
<rect x="257.4" y="686.8" width="5.88" height="5.88" fill="#eaba31"/>
<rect x="162.3" y="562.3" width="5.88" height="5.88" fill="#05b6ce"/>
<rect x="180.1" y="585.1" width="5.88" height="5.88" fill="#05b6ce"/>
</g>
<path d="M15.0 422.6h2.5M316.0 422.6h-2.5M44.6 393.0v2.5M44.6 693.5v-2.5M15.0 452.2h2.5M316.0 452.2h-2.5M74.3 393.0v2.5M74.3 693.5v-2.5M15.0 481.8h2.5M316.0 481.8h-2.5M103.9 393.0v2.5M103.9 693.5v-2.5M15.0 511.4h2.5M316.0 511.4h-2.5M133.6 393.0v2.5M133.6 693.5v-2.5M15.0 541.0h2.5M316.0 541.0h-2.5M163.2 393.0v2.5M163.2 693.5v-2.5M15.0 570.6h2.5M316.0 570.6h-2.5M192.9 393.0v2.5M192.9 693.5v-2.5M15.0 600.2h2.5M316.0 600.2h-2.5M222.5 393.0v2.5M222.5 693.5v-2.5M15.0 629.8h2.5M316.0 629.8h-2.5M252.2 393.0v2.5M252.2 693.5v-2.5M15.0 659.4h2.5M316.0 659.4h-2.5M281.8 393.0v2.5M281.8 693.5v-2.5M15.0 689.0h2.5M316.0 689.0h-2.5M311.5 393.0v2.5M311.5 693.5v-2.5" stroke="#333" stroke-width="1" opacity="0.6" fill="none"/>
<rect x="15.4" y="393.4" width="300.2" height="299.7" fill="none" stroke="#222" stroke-opacity="0.35" stroke-width="0.8"/>
<rect x="321.8" y="462.8" width="29.2" height="180.4" fill="url(#cbar)" stroke="#555" stroke-width="1"/>
<path d="M351.0 511.5h-3M351.0 564.7h-3M351.0 617.9h-3" stroke="#444" stroke-width="1"/>
<rect x="37.2" y="664" width="75.5" height="14.9" fill="#fff"/>
<text transform="translate(32.17 655.30) scale(1.0989 1)" font-size="25.65" fill="#fff">500nm</text>
<text transform="translate(26.04 426.66) scale(1.2268 1)" font-size="32.09" fill="#000" filter="url(#gw)">(e)</text>
<text transform="translate(305.97 421.79) scale(0.9668 1)" font-size="28.13" fill="#000" filter="url(#gw)">(a.u.)</text>
<text transform="translate(328.05 455.80) scale(1.0137 1)" font-size="26.96" fill="#000">4</text>
<text transform="translate(317.26 671.70) scale(1.0855 1)" font-size="25.07" fill="#000">1.5</text>
<g clip-path="url(#cf)">
<rect x="376.2" y="393" width="300.1" height="300.3" fill="#2b8ee8"/>
<rect x="547.1" y="444.8" width="5.88" height="5.88" fill="#f9fb15"/>
<rect x="588.9" y="492.4" width="5.88" height="5.88" fill="#fec13a"/>
<rect x="617.9" y="657.8" width="5.88" height="5.88" fill="#f5e825"/>
<rect x="405.2" y="663.9" width="5.88" height="5.88" fill="#f9fb15"/>
<rect x="611.8" y="433.5" width="5.88" height="5.88" fill="#402bb7"/>
<rect x="529.7" y="468.6" width="5.88" height="5.88" fill="#422ebe"/>
<rect x="410.4" y="468.6" width="5.88" height="5.88" fill="#422ebe"/>
<rect x="565.4" y="509.8" width="5.88" height="5.88" fill="#422ebe"/>
<rect x="482.4" y="551.6" width="5.88" height="5.88" fill="#422ebe"/>
<rect x="476.3" y="616.6" width="5.88" height="5.88" fill="#4330c5"/>
<rect x="600.5" y="598.9" width="5.88" height="5.88" fill="#422ebe"/>
<rect x="641.0" y="627.9" width="5.88" height="5.88" fill="#4330c5"/>
<rect x="386.6" y="521.1" width="5.88" height="5.88" fill="#4330c5"/>
<rect x="404.1" y="502.8" width="5.88" height="5.88" fill="#4536d3"/>
<rect x="410.1" y="502.8" width="5.88" height="5.88" fill="#4536d3"/>
<rect x="410.7" y="486.0" width="5.88" height="5.88" fill="#58cc79"/>
<rect x="612.7" y="486.0" width="5.88" height="5.88" fill="#7acc5d"/>
<rect x="624.3" y="498.5" width="5.88" height="5.88" fill="#58cc79"/>
<rect x="458.6" y="575.4" width="5.88" height="5.88" fill="#48cb86"/>
<rect x="564.8" y="628.8" width="5.88" height="5.88" fill="#58cc79"/>
<rect x="492.1" y="538.8" width="5.88" height="5.88" fill="#3bc992"/>
<rect x="500.7" y="427.4" width="5.88" height="5.88" fill="#3bc992"/>
<rect x="535.8" y="409.1" width="5.88" height="5.88" fill="#48cb86"/>
<rect x="438.1" y="390.6" width="5.88" height="5.88" fill="#9fc942"/>
<rect x="397.1" y="664.1" width="5.88" height="5.88" fill="#2d8cf3"/>
<rect x="557.1" y="492.1" width="5.88" height="5.88" fill="#48cb86"/>
<rect x="437.1" y="587.1" width="5.88" height="5.88" fill="#2fc5a2"/>
<rect x="517.1" y="597.1" width="5.88" height="5.88" fill="#2fc5a2"/>
<rect x="652.1" y="557.1" width="5.88" height="5.88" fill="#48cb86"/>
<rect x="392.1" y="607.1" width="5.88" height="5.88" fill="#2fc5a2"/>
<rect x="597.1" y="677.1" width="5.88" height="5.88" fill="#48cb86"/>
</g>
<path d="M376.2 422.6h2.5M676.3 422.6h-2.5M405.8 393.0v2.5M405.8 693.3v-2.5M376.2 452.2h2.5M676.3 452.2h-2.5M435.3 393.0v2.5M435.3 693.3v-2.5M376.2 481.7h2.5M676.3 481.7h-2.5M464.9 393.0v2.5M464.9 693.3v-2.5M376.2 511.3h2.5M676.3 511.3h-2.5M494.4 393.0v2.5M494.4 693.3v-2.5M376.2 540.9h2.5M676.3 540.9h-2.5M524.0 393.0v2.5M524.0 693.3v-2.5M376.2 570.5h2.5M676.3 570.5h-2.5M553.6 393.0v2.5M553.6 693.3v-2.5M376.2 600.1h2.5M676.3 600.1h-2.5M583.1 393.0v2.5M583.1 693.3v-2.5M376.2 629.6h2.5M676.3 629.6h-2.5M612.7 393.0v2.5M612.7 693.3v-2.5M376.2 659.2h2.5M676.3 659.2h-2.5M642.2 393.0v2.5M642.2 693.3v-2.5M376.2 688.8h2.5M676.3 688.8h-2.5M671.8 393.0v2.5M671.8 693.3v-2.5" stroke="#333" stroke-width="1" opacity="0.6" fill="none"/>
<rect x="376.6" y="393.4" width="299.3" height="299.5" fill="none" stroke="#222" stroke-opacity="0.35" stroke-width="0.8"/>
<rect x="686" y="466.3" width="29.4" height="180.6" fill="url(#cbar)" stroke="#555" stroke-width="1"/>
<path d="M715.4 515.1h-3M715.4 568.3h-3M715.4 621.6h-3" stroke="#444" stroke-width="1"/>
<rect x="396.8" y="669.8" width="75.4" height="14.7" fill="#fff"/>
<text transform="translate(391.79 662.20) scale(1.0501 1)" font-size="26.52" fill="#fff">500nm</text>
<text transform="translate(392.06 427.71) scale(1.1402 1)" font-size="34.22" fill="#000" filter="url(#gw)">(f)</text>
<text transform="translate(670.29 424.48) scale(1.0288 1)" font-size="27.70" fill="#000" filter="url(#gw)">(nm)</text>
<text transform="translate(677.01 457.80) scale(1.0990 1)" font-size="24.86" fill="#000">385</text>
<text transform="translate(679.49 674.40) scale(1.1583 1)" font-size="24.00" fill="#000">370</text>
<g clip-path="url(#cg)">
<rect x="742" y="393.1" width="300.6" height="300.2" fill="#22a2da"/>
<ellipse cx="908" cy="469" rx="11" ry="9" fill="#3f6eff" filter="url(#bl1)"/>
<rect x="777.2" y="504.6" width="5.88" height="5.88" fill="#f9fb15"/>
<rect x="978.3" y="433.5" width="5.88" height="5.88" fill="#f9fb15"/>
<rect x="913.0" y="445.7" width="5.88" height="5.88" fill="#eaba31"/>
<rect x="818.4" y="457.0" width="5.88" height="5.88" fill="#b0c636"/>
<rect x="954.8" y="493.0" width="5.88" height="5.88" fill="#b0c636"/>
<rect x="888.9" y="552.5" width="5.88" height="5.88" fill="#8dcb4f"/>
<rect x="812.3" y="563.8" width="5.88" height="5.88" fill="#9fc942"/>
<rect x="801.0" y="504.6" width="5.88" height="5.88" fill="#402bb7"/>
<rect x="771.1" y="528.7" width="5.88" height="5.88" fill="#422ebe"/>
<rect x="931.0" y="510.4" width="5.88" height="5.88" fill="#422ebe"/>
<rect x="978.3" y="486.9" width="5.88" height="5.88" fill="#422ebe"/>
<rect x="948.7" y="634.9" width="5.88" height="5.88" fill="#422ebe"/>
<rect x="1007.6" y="676.1" width="5.88" height="5.88" fill="#422ebe"/>
<rect x="741.3" y="682.1" width="5.88" height="5.88" fill="#422ebe"/>
<rect x="854.1" y="487.1" width="5.88" height="5.88" fill="#58cc79"/>
<rect x="759.1" y="609.1" width="5.88" height="5.88" fill="#48cb86"/>
<rect x="867.1" y="637.1" width="5.88" height="5.88" fill="#48cb86"/>
<rect x="962.1" y="607.1" width="5.88" height="5.88" fill="#58cc79"/>
<rect x="987.1" y="557.1" width="5.88" height="5.88" fill="#48cb86"/>
</g>
<path d="M742.0 422.7h2.5M1042.6 422.7h-2.5M771.6 393.1v2.5M771.6 693.3v-2.5M742.0 452.2h2.5M1042.6 452.2h-2.5M801.2 393.1v2.5M801.2 693.3v-2.5M742.0 481.8h2.5M1042.6 481.8h-2.5M830.8 393.1v2.5M830.8 693.3v-2.5M742.0 511.4h2.5M1042.6 511.4h-2.5M860.4 393.1v2.5M860.4 693.3v-2.5M742.0 540.9h2.5M1042.6 540.9h-2.5M890.0 393.1v2.5M890.0 693.3v-2.5M742.0 570.5h2.5M1042.6 570.5h-2.5M919.7 393.1v2.5M919.7 693.3v-2.5M742.0 600.1h2.5M1042.6 600.1h-2.5M949.3 393.1v2.5M949.3 693.3v-2.5M742.0 629.7h2.5M1042.6 629.7h-2.5M978.9 393.1v2.5M978.9 693.3v-2.5M742.0 659.2h2.5M1042.6 659.2h-2.5M1008.5 393.1v2.5M1008.5 693.3v-2.5M742.0 688.8h2.5M1042.6 688.8h-2.5M1038.1 393.1v2.5M1038.1 693.3v-2.5" stroke="#333" stroke-width="1" opacity="0.6" fill="none"/>
<rect x="742.4" y="393.5" width="299.8" height="299.4" fill="none" stroke="#222" stroke-opacity="0.35" stroke-width="0.8"/>
<rect x="1051.4" y="466.9" width="29.2" height="180.9" fill="url(#cbar)" stroke="#555" stroke-width="1"/>
<path d="M1080.6 515.7h-3M1080.6 569.1h-3M1080.6 622.5h-3" stroke="#444" stroke-width="1"/>
<rect x="759.4" y="669.8" width="74.7" height="13.7" fill="#fff"/>
<text transform="translate(753.68 661.30) scale(1.1661 1)" font-size="23.91" fill="#fff">500nm</text>
<text transform="translate(755.67 430.36) scale(0.9176 1)" font-size="34.97" fill="#000" filter="url(#gw)">(g)</text>
<text transform="translate(1035.29 425.62) scale(1.0532 1)" font-size="27.06" fill="#000" filter="url(#gw)">(nm)</text>
<text transform="translate(1050.89 459.90) scale(1.1220 1)" font-size="25.22" fill="#000">70</text>
<text transform="translate(1051.18 675.30) scale(1.1081 1)" font-size="25.29" fill="#000">30</text>
<g clip-path="url(#ch)">
<rect x="17" y="748" width="299.6" height="299.6" fill="url(#gh)"/>
<g filter="url(#bl05)">
<rect x="169.88" y="800.92" width="6.58" height="6.58" fill="#465ffb"/>
<rect x="175.76" y="800.92" width="6.58" height="6.58" fill="#465ffb"/>
<rect x="181.64" y="800.92" width="6.58" height="6.58" fill="#465ffb"/>
<rect x="187.52" y="800.92" width="6.58" height="6.58" fill="#4755f6"/>
<rect x="164.00" y="806.80" width="6.58" height="6.58" fill="#484aee"/>
<rect x="169.88" y="806.80" width="6.58" height="6.58" fill="#259ce7"/>
<rect x="175.76" y="806.80" width="6.58" height="6.58" fill="#12beb9"/>
<rect x="181.64" y="806.80" width="6.58" height="6.58" fill="#15afd9"/>
<rect x="187.52" y="806.80" width="6.58" height="6.58" fill="#4367fd"/>
<rect x="164.00" y="812.68" width="6.58" height="6.58" fill="#2f81fa"/>
<rect x="169.88" y="812.68" width="6.58" height="6.58" fill="#c8c129"/>
<rect x="175.76" y="812.68" width="6.58" height="6.58" fill="#f9fb15"/>
<rect x="181.64" y="812.68" width="6.58" height="6.58" fill="#fec13a"/>
<rect x="187.52" y="812.68" width="6.58" height="6.58" fill="#01b9c6"/>
<rect x="164.00" y="818.56" width="6.58" height="6.58" fill="#20a4e3"/>
<rect x="169.88" y="818.56" width="6.58" height="6.58" fill="#f5e825"/>
<rect x="175.76" y="818.56" width="6.58" height="6.58" fill="#f9fb15"/>
<rect x="181.64" y="818.56" width="6.58" height="6.58" fill="#fec13a"/>
<rect x="187.52" y="818.56" width="6.58" height="6.58" fill="#01b9c6"/>
<rect x="164.00" y="824.44" width="6.58" height="6.58" fill="#1caadf"/>
<rect x="169.88" y="824.44" width="6.58" height="6.58" fill="#f5e825"/>
<rect x="175.76" y="824.44" width="6.58" height="6.58" fill="#f9fb15"/>
<rect x="181.64" y="824.44" width="6.58" height="6.58" fill="#f6f020"/>
<rect x="187.52" y="824.44" width="6.58" height="6.58" fill="#48cb86"/>
<rect x="164.00" y="830.32" width="6.58" height="6.58" fill="#4367fd"/>
<rect x="169.88" y="830.32" width="6.58" height="6.58" fill="#c8c129"/>
<rect x="175.76" y="830.32" width="6.58" height="6.58" fill="#fec13a"/>
<rect x="181.64" y="830.32" width="6.58" height="6.58" fill="#d0c027"/>
<rect x="187.52" y="830.32" width="6.58" height="6.58" fill="#11b1d6"/>
<rect x="164.00" y="836.20" width="6.58" height="6.58" fill="#4539d9"/>
<rect x="169.88" y="836.20" width="6.58" height="6.58" fill="#05b6ce"/>
<rect x="175.76" y="836.20" width="6.58" height="6.58" fill="#60cd72"/>
<rect x="181.64" y="836.20" width="6.58" height="6.58" fill="#04bbc2"/>
<rect x="187.52" y="836.20" width="6.58" height="6.58" fill="#4367fd"/>
<rect x="169.88" y="842.08" width="6.58" height="6.58" fill="#484aee"/>
<rect x="175.76" y="842.08" width="6.58" height="6.58" fill="#4367fd"/>
<rect x="181.64" y="842.08" width="6.58" height="6.58" fill="#4367fd"/>
<rect x="187.52" y="842.08" width="6.58" height="6.58" fill="#4743e7"/>
</g>
<rect x="211.04" y="930.28" width="6.58" height="6.58" fill="#4367fd"/>
<rect x="222.80" y="930.28" width="6.58" height="6.58" fill="#4367fd"/>
<rect x="216.92" y="924.40" width="6.58" height="6.58" fill="#4367fd"/>
<rect x="216.92" y="936.16" width="6.58" height="6.58" fill="#4367fd"/>
<rect x="216.92" y="930.28" width="6.58" height="6.58" fill="#15afd9"/>
<rect x="299.24" y="924.40" width="6.58" height="6.58" fill="#3f6eff"/>
<rect x="311.00" y="924.40" width="6.58" height="6.58" fill="#3f6eff"/>
<rect x="305.12" y="918.52" width="6.58" height="6.58" fill="#3f6eff"/>
<rect x="305.12" y="930.28" width="6.58" height="6.58" fill="#3f6eff"/>
<rect x="305.12" y="924.40" width="6.58" height="6.58" fill="#2fc5a2"/>
<rect x="281.60" y="977.32" width="6.58" height="6.58" fill="#1caadf"/>
<rect x="275.72" y="971.44" width="6.58" height="6.58" fill="#3f6eff"/>
<rect x="281.60" y="971.44" width="6.58" height="6.58" fill="#465ffb"/>
<rect x="287.48" y="983.20" width="6.58" height="6.58" fill="#4367fd"/>
<rect x="275.72" y="977.32" width="6.58" height="6.58" fill="#4755f6"/>
<rect x="281.60" y="983.20" width="6.58" height="6.58" fill="#347afd"/>
<rect x="193.1" y="965.5" width="5.88" height="5.88" fill="#3f6eff"/>
<rect x="152.7" y="1005.9" width="5.88" height="5.88" fill="#4367fd"/>
<rect x="65.9" y="818.9" width="5.88" height="5.88" fill="#4743e7"/>
<rect x="124.3" y="871.2" width="5.88" height="5.88" fill="#463cde"/>
<rect x="158.7" y="899.7" width="5.88" height="5.88" fill="#484aee"/>
<rect x="181.1" y="886.1" width="5.88" height="5.88" fill="#4743e7"/>
<rect x="293.3" y="860.8" width="5.88" height="5.88" fill="#484aee"/>
<rect x="299.1" y="866.1" width="5.88" height="5.88" fill="#4743e7"/>
<rect x="311.3" y="835.3" width="5.88" height="5.88" fill="#1caadf"/>
<rect x="239.5" y="977.5" width="5.88" height="5.88" fill="#4743e7"/>
<rect x="293.3" y="1031.3" width="5.88" height="5.88" fill="#4743e7"/>
<rect x="72.1" y="825.1" width="5.88" height="5.88" fill="#463cde"/>
</g>
<path d="M17.0 777.5h2.5M316.6 777.5h-2.5M46.5 748.0v2.5M46.5 1047.6v-2.5M17.0 807.0h2.5M316.6 807.0h-2.5M76.0 748.0v2.5M76.0 1047.6v-2.5M17.0 836.5h2.5M316.6 836.5h-2.5M105.5 748.0v2.5M105.5 1047.6v-2.5M17.0 866.0h2.5M316.6 866.0h-2.5M135.0 748.0v2.5M135.0 1047.6v-2.5M17.0 895.6h2.5M316.6 895.6h-2.5M164.6 748.0v2.5M164.6 1047.6v-2.5M17.0 925.1h2.5M316.6 925.1h-2.5M194.1 748.0v2.5M194.1 1047.6v-2.5M17.0 954.6h2.5M316.6 954.6h-2.5M223.6 748.0v2.5M223.6 1047.6v-2.5M17.0 984.1h2.5M316.6 984.1h-2.5M253.1 748.0v2.5M253.1 1047.6v-2.5M17.0 1013.6h2.5M316.6 1013.6h-2.5M282.6 748.0v2.5M282.6 1047.6v-2.5M17.0 1043.1h2.5M316.6 1043.1h-2.5M312.1 748.0v2.5M312.1 1047.6v-2.5" stroke="#333" stroke-width="1" opacity="0.6" fill="none"/>
<rect x="17.4" y="748.4" width="298.8" height="298.8" fill="none" stroke="#222" stroke-opacity="0.35" stroke-width="0.8"/>
<rect x="322.6" y="824.3" width="29.0" height="180.6" fill="url(#cbar)" stroke="#555" stroke-width="1"/>
<path d="M351.6 873.1h-3M351.6 926.3h-3M351.6 979.6h-3" stroke="#444" stroke-width="1"/>
<rect x="148.90" y="800.70" width="47.70" height="47.80" fill="none" stroke="#ff0000" stroke-width="4.6"/>
<rect x="260.2" y="748.6" width="57.2" height="56.4" fill="none" stroke="#4472c4" stroke-width="4.4"/>
<rect x="263.4" y="751.8" width="50.8" height="50" fill="none" stroke="#fff" stroke-width="2" opacity="0.9"/>
<rect x="14.8" y="871.8" width="56.3" height="56.1" fill="none" stroke="#7030a0" stroke-width="4.4"/>
<rect x="18" y="875" width="49.9" height="49.7" fill="none" stroke="#fff" stroke-width="2" opacity="0.9"/>
<rect x="263.30" y="966.00" width="32.90" height="32.60" fill="none" stroke="#ed7d31" stroke-width="4.2"/>
<rect x="36.3" y="1020.8" width="75.9" height="14.6" fill="#fff"/>
<text transform="translate(30.27 1012.70) scale(1.0871 1)" font-size="26.09" fill="#fff">500nm</text>
<text transform="translate(26.67 791.91) scale(1.1058 1)" font-size="35.19" fill="#000" filter="url(#gw)">(h)</text>
<text transform="translate(112.47 793.30) scale(1.0656 1)" font-size="25.57" fill="#ff0000" filter="url(#gw)">Spot 1</text>
<text transform="translate(253.79 831.30) scale(1.0539 1)" font-size="25.57" fill="#0070c0" filter="url(#gw)">Spots</text>
<text transform="translate(-0.00 865.20) scale(1.0966 1)" font-size="27.39" fill="#7030a0" filter="url(#gw)">Matrix</text>
<text transform="translate(202.83 1022.80) scale(1.0654 1)" font-size="26.43" fill="#ed7d31" filter="url(#gw)">Spot 2</text>
<text transform="translate(307.07 783.39) scale(0.9636 1)" font-size="28.13" fill="#000" filter="url(#gw)">(a.u.)</text>
<text transform="translate(322.77 818.30) scale(1.0436 1)" font-size="26.14" fill="#000">80</text>
<text transform="translate(329.48 1031.20) scale(1.2005 1)" font-size="23.43" fill="#000">0</text>
<g clip-path="url(#ci)">
<rect x="377" y="748" width="300.2" height="299.8" fill="url(#gi)"/>
<ellipse cx="620" cy="900" rx="40" ry="30" fill="#2d88f6" opacity="0.6" filter="url(#bl6)"/>
<ellipse cx="560" cy="970" rx="50" ry="25" fill="#2e85f8" opacity="0.5" filter="url(#bl6)"/>
<ellipse cx="400" cy="1010" rx="25" ry="40" fill="#259ce7" opacity="0.55" filter="url(#bl6)"/>
<ellipse cx="540" cy="823" rx="23" ry="28" fill="#249fe6" filter="url(#bl2)"/>
<g filter="url(#bl05)">
<rect x="529.88" y="800.92" width="6.58" height="6.58" fill="#05b6ce"/>
<rect x="535.76" y="800.92" width="6.58" height="6.58" fill="#48cb86"/>
<rect x="541.64" y="800.92" width="6.58" height="6.58" fill="#12beb9"/>
<rect x="547.52" y="800.92" width="6.58" height="6.58" fill="#11b1d6"/>
<rect x="524.00" y="806.80" width="6.58" height="6.58" fill="#01b9c6"/>
<rect x="529.88" y="806.80" width="6.58" height="6.58" fill="#7acc5d"/>
<rect x="535.76" y="806.80" width="6.58" height="6.58" fill="#9fc942"/>
<rect x="541.64" y="806.80" width="6.58" height="6.58" fill="#8dcb4f"/>
<rect x="547.52" y="806.80" width="6.58" height="6.58" fill="#27c2ac"/>
<rect x="553.40" y="806.80" width="6.58" height="6.58" fill="#1caadf"/>
<rect x="518.12" y="812.68" width="6.58" height="6.58" fill="#1caadf"/>
<rect x="524.00" y="812.68" width="6.58" height="6.58" fill="#8dcb4f"/>
<rect x="529.88" y="812.68" width="6.58" height="6.58" fill="#c1c32d"/>
<rect x="535.76" y="812.68" width="6.58" height="6.58" fill="#c1c32d"/>
<rect x="541.64" y="812.68" width="6.58" height="6.58" fill="#b9c431"/>
<rect x="547.52" y="812.68" width="6.58" height="6.58" fill="#58cc79"/>
<rect x="553.40" y="812.68" width="6.58" height="6.58" fill="#04bbc2"/>
<rect x="518.12" y="818.56" width="6.58" height="6.58" fill="#15afd9"/>
<rect x="524.00" y="818.56" width="6.58" height="6.58" fill="#8dcb4f"/>
<rect x="529.88" y="818.56" width="6.58" height="6.58" fill="#c1c32d"/>
<rect x="535.76" y="818.56" width="6.58" height="6.58" fill="#c4c22a"/>
<rect x="541.64" y="818.56" width="6.58" height="6.58" fill="#c1c32d"/>
<rect x="547.52" y="818.56" width="6.58" height="6.58" fill="#9fc942"/>
<rect x="553.40" y="818.56" width="6.58" height="6.58" fill="#21c1b0"/>
<rect x="518.12" y="824.44" width="6.58" height="6.58" fill="#15afd9"/>
<rect x="524.00" y="824.44" width="6.58" height="6.58" fill="#9fc942"/>
<rect x="529.88" y="824.44" width="6.58" height="6.58" fill="#c1c32d"/>
<rect x="535.76" y="824.44" width="6.58" height="6.58" fill="#c4c22a"/>
<rect x="541.64" y="824.44" width="6.58" height="6.58" fill="#c1c32d"/>
<rect x="547.52" y="824.44" width="6.58" height="6.58" fill="#b9c431"/>
<rect x="553.40" y="824.44" width="6.58" height="6.58" fill="#33c69d"/>
<rect x="518.12" y="830.32" width="6.58" height="6.58" fill="#1caadf"/>
<rect x="524.00" y="830.32" width="6.58" height="6.58" fill="#8dcb4f"/>
<rect x="529.88" y="830.32" width="6.58" height="6.58" fill="#b9c431"/>
<rect x="535.76" y="830.32" width="6.58" height="6.58" fill="#c1c32d"/>
<rect x="541.64" y="830.32" width="6.58" height="6.58" fill="#c1c32d"/>
<rect x="547.52" y="830.32" width="6.58" height="6.58" fill="#8dcb4f"/>
<rect x="553.40" y="830.32" width="6.58" height="6.58" fill="#12beb9"/>
<rect x="524.00" y="836.20" width="6.58" height="6.58" fill="#0ab4d2"/>
<rect x="529.88" y="836.20" width="6.58" height="6.58" fill="#a8c73b"/>
<rect x="535.76" y="836.20" width="6.58" height="6.58" fill="#b9c431"/>
<rect x="541.64" y="836.20" width="6.58" height="6.58" fill="#b9c431"/>
<rect x="547.52" y="836.20" width="6.58" height="6.58" fill="#71cd64"/>
<rect x="553.40" y="836.20" width="6.58" height="6.58" fill="#15afd9"/>
<rect x="529.88" y="842.08" width="6.58" height="6.58" fill="#48cb86"/>
<rect x="535.76" y="842.08" width="6.58" height="6.58" fill="#58cc79"/>
<rect x="541.64" y="842.08" width="6.58" height="6.58" fill="#48cb86"/>
<rect x="547.52" y="842.08" width="6.58" height="6.58" fill="#12beb9"/>
</g>
<ellipse cx="667" cy="929.5" rx="9" ry="13" fill="#05b6ce" filter="url(#bl2)"/>
<ellipse cx="668" cy="929.5" rx="4" ry="7" fill="#58cc79" filter="url(#bl1)"/>
<ellipse cx="643" cy="980" rx="9" ry="10" fill="#15afd9" filter="url(#bl2)"/>
<rect x="512.4" y="1006.6" width="5.88" height="5.88" fill="#f9fb15"/>
<rect x="483.0" y="901.2" width="5.88" height="5.88" fill="#422ebe"/>
<rect x="441.4" y="818.0" width="5.88" height="5.88" fill="#48cb86"/>
<rect x="389.1" y="957.1" width="5.88" height="5.88" fill="#2fc5a2"/>
<rect x="395.1" y="1037.1" width="5.88" height="5.88" fill="#12beb9"/>
<rect x="417.1" y="982.1" width="5.88" height="5.88" fill="#12beb9"/>
<rect x="427.1" y="1027.1" width="5.88" height="5.88" fill="#12beb9"/>
<rect x="382.1" y="1017.1" width="5.88" height="5.88" fill="#48cb86"/>
<rect x="437.1" y="947.1" width="5.88" height="5.88" fill="#05b6ce"/>
<rect x="402.1" y="877.1" width="5.88" height="5.88" fill="#05b6ce"/>
<rect x="389.1" y="827.1" width="5.88" height="5.88" fill="#05b6ce"/>
<rect x="447.1" y="777.1" width="5.88" height="5.88" fill="#15afd9"/>
<rect x="385.1" y="792.1" width="5.88" height="5.88" fill="#4743e7"/>
<rect x="397.1" y="857.1" width="5.88" height="5.88" fill="#484aee"/>
<rect x="420.1" y="907.1" width="5.88" height="5.88" fill="#4743e7"/>
</g>
<path d="M377.0 777.5h2.5M677.2 777.5h-2.5M406.6 748.0v2.5M406.6 1047.8v-2.5M377.0 807.1h2.5M677.2 807.1h-2.5M436.1 748.0v2.5M436.1 1047.8v-2.5M377.0 836.6h2.5M677.2 836.6h-2.5M465.7 748.0v2.5M465.7 1047.8v-2.5M377.0 866.1h2.5M677.2 866.1h-2.5M495.3 748.0v2.5M495.3 1047.8v-2.5M377.0 895.7h2.5M677.2 895.7h-2.5M524.8 748.0v2.5M524.8 1047.8v-2.5M377.0 925.2h2.5M677.2 925.2h-2.5M554.4 748.0v2.5M554.4 1047.8v-2.5M377.0 954.7h2.5M677.2 954.7h-2.5M584.0 748.0v2.5M584.0 1047.8v-2.5M377.0 984.2h2.5M677.2 984.2h-2.5M613.6 748.0v2.5M613.6 1047.8v-2.5M377.0 1013.8h2.5M677.2 1013.8h-2.5M643.1 748.0v2.5M643.1 1047.8v-2.5M377.0 1043.3h2.5M677.2 1043.3h-2.5M672.7 748.0v2.5M672.7 1047.8v-2.5" stroke="#333" stroke-width="1" opacity="0.6" fill="none"/>
<rect x="377.4" y="748.4" width="299.4" height="299.0" fill="none" stroke="#222" stroke-opacity="0.35" stroke-width="0.8"/>
<rect x="686.2" y="826.3" width="29.0" height="181.1" fill="url(#cbar)" stroke="#555" stroke-width="1"/>
<path d="M715.2 875.2h-3M715.2 928.6h-3M715.2 982.0h-3" stroke="#444" stroke-width="1"/>
<rect x="395.8" y="1026.8" width="75.5" height="14.1" fill="#fff"/>
<text transform="translate(391.39 1017.90) scale(1.1647 1)" font-size="23.91" fill="#fff">500nm</text>
<text transform="translate(392.77 790.83) scale(1.1019 1)" font-size="33.69" fill="#000" filter="url(#gw)">(i)</text>
<text transform="translate(670.06 785.01) scale(1.1304 1)" font-size="25.67" fill="#000" filter="url(#gw)">(nm)</text>
<text transform="translate(676.69 818.80) scale(1.1609 1)" font-size="23.91" fill="#000">526</text>
<text transform="translate(679.70 1034.30) scale(1.1593 1)" font-size="23.77" fill="#000">522</text>
<g clip-path="url(#cj)">
<rect x="742.9" y="747.9" width="299.9" height="299.9" fill="url(#gj)"/>
<ellipse cx="906" cy="823" rx="21" ry="27" fill="#7acc5d" filter="url(#bl2)"/>
<g filter="url(#bl05)">
<rect x="895.78" y="800.82" width="6.58" height="6.58" fill="#58cc79"/>
<rect x="901.66" y="800.82" width="6.58" height="6.58" fill="#37c898"/>
<rect x="907.54" y="800.82" width="6.58" height="6.58" fill="#37c898"/>
<rect x="913.42" y="800.82" width="6.58" height="6.58" fill="#60cd72"/>
<rect x="889.90" y="806.70" width="6.58" height="6.58" fill="#2fc5a2"/>
<rect x="895.78" y="806.70" width="6.58" height="6.58" fill="#27c2ac"/>
<rect x="901.66" y="806.70" width="6.58" height="6.58" fill="#1ac0b5"/>
<rect x="907.54" y="806.70" width="6.58" height="6.58" fill="#1ac0b5"/>
<rect x="913.42" y="806.70" width="6.58" height="6.58" fill="#2fc5a2"/>
<rect x="919.30" y="806.70" width="6.58" height="6.58" fill="#58cc79"/>
<rect x="889.90" y="812.58" width="6.58" height="6.58" fill="#21c1b0"/>
<rect x="895.78" y="812.58" width="6.58" height="6.58" fill="#12beb9"/>
<rect x="901.66" y="812.58" width="6.58" height="6.58" fill="#12beb9"/>
<rect x="907.54" y="812.58" width="6.58" height="6.58" fill="#12beb9"/>
<rect x="913.42" y="812.58" width="6.58" height="6.58" fill="#12beb9"/>
<rect x="919.30" y="812.58" width="6.58" height="6.58" fill="#48cb86"/>
<rect x="889.90" y="818.46" width="6.58" height="6.58" fill="#21c1b0"/>
<rect x="895.78" y="818.46" width="6.58" height="6.58" fill="#12beb9"/>
<rect x="901.66" y="818.46" width="6.58" height="6.58" fill="#12beb9"/>
<rect x="907.54" y="818.46" width="6.58" height="6.58" fill="#12beb9"/>
<rect x="913.42" y="818.46" width="6.58" height="6.58" fill="#12beb9"/>
<rect x="919.30" y="818.46" width="6.58" height="6.58" fill="#48cb86"/>
<rect x="889.90" y="824.34" width="6.58" height="6.58" fill="#21c1b0"/>
<rect x="895.78" y="824.34" width="6.58" height="6.58" fill="#12beb9"/>
<rect x="901.66" y="824.34" width="6.58" height="6.58" fill="#12beb9"/>
<rect x="907.54" y="824.34" width="6.58" height="6.58" fill="#12beb9"/>
<rect x="913.42" y="824.34" width="6.58" height="6.58" fill="#12beb9"/>
<rect x="919.30" y="824.34" width="6.58" height="6.58" fill="#48cb86"/>
<rect x="889.90" y="830.22" width="6.58" height="6.58" fill="#21c1b0"/>
<rect x="895.78" y="830.22" width="6.58" height="6.58" fill="#12beb9"/>
<rect x="901.66" y="830.22" width="6.58" height="6.58" fill="#12beb9"/>
<rect x="907.54" y="830.22" width="6.58" height="6.58" fill="#12beb9"/>
<rect x="913.42" y="830.22" width="6.58" height="6.58" fill="#12beb9"/>
<rect x="919.30" y="830.22" width="6.58" height="6.58" fill="#48cb86"/>
<rect x="889.90" y="836.10" width="6.58" height="6.58" fill="#37c898"/>
<rect x="895.78" y="836.10" width="6.58" height="6.58" fill="#1ac0b5"/>
<rect x="901.66" y="836.10" width="6.58" height="6.58" fill="#1ac0b5"/>
<rect x="907.54" y="836.10" width="6.58" height="6.58" fill="#1ac0b5"/>
<rect x="913.42" y="836.10" width="6.58" height="6.58" fill="#1ac0b5"/>
<rect x="919.30" y="836.10" width="6.58" height="6.58" fill="#58cc79"/>
<rect x="895.78" y="841.98" width="6.58" height="6.58" fill="#33c69d"/>
<rect x="901.66" y="841.98" width="6.58" height="6.58" fill="#33c69d"/>
<rect x="907.54" y="841.98" width="6.58" height="6.58" fill="#33c69d"/>
<rect x="913.42" y="841.98" width="6.58" height="6.58" fill="#58cc79"/>
</g>
<ellipse cx="945.5" cy="934" rx="8" ry="10" fill="#48cb86" filter="url(#bl2)"/>
<rect x="942.5" y="931.0" width="5.9" height="5.9" fill="#21c1b0"/>
<ellipse cx="1033.8" cy="929.5" rx="8" ry="10" fill="#48cb86" filter="url(#bl2)"/>
<rect x="1030.8" y="926.5" width="5.9" height="5.9" fill="#21c1b0"/>
<ellipse cx="1009.9" cy="982" rx="8" ry="10" fill="#48cb86" filter="url(#bl2)"/>
<rect x="1006.9" y="979.0" width="5.9" height="5.9" fill="#21c1b0"/>
<rect x="919.3" y="966.1" width="5.88" height="5.88" fill="#422ebe"/>
<rect x="877.4" y="1007.5" width="5.88" height="5.88" fill="#422ebe"/>
<rect x="771.1" y="883.8" width="5.88" height="5.88" fill="#347afd"/>
<rect x="847.7" y="824.0" width="5.88" height="5.88" fill="#05b6ce"/>
<rect x="741.5" y="1037.4" width="5.88" height="5.88" fill="#4433cc"/>
<rect x="806.4" y="818.0" width="5.88" height="5.88" fill="#f6f020"/>
<rect x="754.1" y="759.1" width="5.88" height="5.88" fill="#f5e825"/>
<rect x="840.1" y="1015.1" width="5.88" height="5.88" fill="#2d8cf3"/>
<rect x="787.1" y="1029.1" width="5.88" height="5.88" fill="#48cb86"/>
<rect x="762.1" y="957.1" width="5.88" height="5.88" fill="#2fc5a2"/>
<rect x="757.1" y="997.1" width="5.88" height="5.88" fill="#48cb86"/>
<rect x="797.1" y="947.1" width="5.88" height="5.88" fill="#3bc992"/>
<rect x="777.1" y="1007.1" width="5.88" height="5.88" fill="#2fc5a2"/>
<rect x="817.1" y="1042.1" width="5.88" height="5.88" fill="#259ce7"/>
<rect x="767.1" y="902.1" width="5.88" height="5.88" fill="#2fc5a2"/>
<rect x="787.1" y="867.1" width="5.88" height="5.88" fill="#48cb86"/>
<rect x="747.1" y="927.1" width="5.88" height="5.88" fill="#2fc5a2"/>
<rect x="737.1" y="987.1" width="5.88" height="5.88" fill="#12beb9"/>
</g>
<path d="M742.9 777.4h2.5M1042.8 777.4h-2.5M772.4 747.9v2.5M772.4 1047.8v-2.5M742.9 807.0h2.5M1042.8 807.0h-2.5M802.0 747.9v2.5M802.0 1047.8v-2.5M742.9 836.5h2.5M1042.8 836.5h-2.5M831.5 747.9v2.5M831.5 1047.8v-2.5M742.9 866.1h2.5M1042.8 866.1h-2.5M861.1 747.9v2.5M861.1 1047.8v-2.5M742.9 895.6h2.5M1042.8 895.6h-2.5M890.6 747.9v2.5M890.6 1047.8v-2.5M742.9 925.1h2.5M1042.8 925.1h-2.5M920.1 747.9v2.5M920.1 1047.8v-2.5M742.9 954.7h2.5M1042.8 954.7h-2.5M949.7 747.9v2.5M949.7 1047.8v-2.5M742.9 984.2h2.5M1042.8 984.2h-2.5M979.2 747.9v2.5M979.2 1047.8v-2.5M742.9 1013.8h2.5M1042.8 1013.8h-2.5M1008.8 747.9v2.5M1008.8 1047.8v-2.5M742.9 1043.3h2.5M1042.8 1043.3h-2.5M1038.3 747.9v2.5M1038.3 1047.8v-2.5" stroke="#333" stroke-width="1" opacity="0.6" fill="none"/>
<rect x="743.3" y="748.3" width="299.1" height="299.1" fill="none" stroke="#222" stroke-opacity="0.35" stroke-width="0.8"/>
<rect x="1051.8" y="826.3" width="28.4" height="180.5" fill="url(#cbar)" stroke="#555" stroke-width="1"/>
<path d="M1080.2 875.0h-3M1080.2 928.3h-3M1080.2 981.5h-3" stroke="#444" stroke-width="1"/>
<rect x="758.4" y="1026.8" width="74.3" height="14.1" fill="#fff"/>
<text transform="translate(752.89 1017.90) scale(1.1238 1)" font-size="24.78" fill="#fff">500nm</text>
<text transform="translate(754.66 793.29) scale(1.0852 1)" font-size="34.33" fill="#000" filter="url(#gw)">(j)</text>
<text transform="translate(1035.06 785.01) scale(1.1304 1)" font-size="25.67" fill="#000" filter="url(#gw)">(nm)</text>
<text transform="translate(1051.38 818.20) scale(1.0989 1)" font-size="24.00" fill="#000">25</text>
<text transform="translate(1051.28 1034.30) scale(1.1318 1)" font-size="23.77" fill="#000">10</text>
<g clip-path="url(#ck)">
<path d="M1199.0 974.2 1199.8 973.8 1200.7 974.0 1201.5 974.5 1202.3 974.9 1203.1 974.7 1204.0 974.6 1204.8 974.4 1205.6 974.9 1206.4 974.8 1207.3 974.8 1208.1 974.4 1208.9 974.8 1209.7 975.0 1210.6 975.1 1211.4 974.9 1212.2 974.9 1213.0 975.1 1213.9 975.2 1214.7 975.3 1215.5 975.8 1216.4 975.9 1217.2 975.7 1218.0 975.9 1218.8 976.0 1219.7 976.0 1220.5 975.9 1221.3 976.0 1222.1 975.9 1223.0 975.3 1223.8 974.9 1224.6 975.0 1225.4 975.1 1226.3 974.7 1227.1 974.4 1227.9 974.3 1228.8 974.0 1229.6 973.7 1230.4 973.9 1231.2 973.8 1232.1 973.4 1232.9 972.7 1233.7 972.7 1234.5 972.7 1235.4 972.8 1236.2 972.5 1237.0 972.0 1237.8 971.2 1238.7 970.5 1239.5 969.9 1240.3 969.2 1241.1 968.5 1242.0 968.2 1242.8 967.7 1243.6 967.6 1244.5 967.2 1245.3 966.6 1246.1 966.1 1246.9 965.8 1247.8 965.3 1248.6 964.3 1249.4 963.8 1250.2 963.4 1251.1 962.9 1251.9 962.5 1252.7 962.0 1253.5 961.5 1254.4 960.8 1255.2 960.6 1256.0 960.0 1256.8 959.5 1257.7 959.2 1258.5 959.0 1259.3 958.6 1260.2 957.9 1261.0 958.2 1261.8 958.4 1262.6 958.4 1263.5 958.1 1264.3 958.5 1265.1 958.5 1265.9 958.6 1266.8 958.6 1267.6 958.6 1268.4 958.9 1269.2 959.5 1270.1 960.3 1270.9 960.3 1271.7 960.1 1272.5 959.7 1273.4 960.5 1274.2 961.6 1275.0 962.3 1275.9 961.9 1276.7 962.1 1277.5 963.0 1278.3 963.8 1279.2 964.4 1280.0 964.8 1280.8 965.5 1281.6 965.9 1282.5 966.2 1283.3 966.6 1284.1 967.2 1284.9 968.0 1285.8 968.7 1286.6 968.7 1287.4 968.8 1288.3 969.5 1289.1 969.9 1289.9 969.9 1290.7 969.5 1291.6 970.0 1292.4 970.7 1293.2 971.8 1294.0 971.9 1294.9 971.2 1295.7 971.2 1296.5 972.1 1297.3 972.7 1298.2 972.8 1299.0 972.9 1299.8 973.2 1300.6 973.1 1301.5 972.9 1302.3 972.8 1303.1 972.8 1304.0 973.2 1304.8 973.2 1305.6 973.9 1306.4 974.3 1307.3 974.2 1308.1 973.7 1308.9 973.3 1309.7 973.3 1310.6 972.8 1311.4 972.7 1312.2 972.6 1313.0 972.9 1313.9 973.2 1314.7 973.6 1315.5 973.6 1316.3 973.6 1317.2 973.6 1318.0 973.4 1318.8 973.0 1319.7 972.8 1320.5 973.2 1321.3 973.3 1322.1 972.9 1323.0 972.1 1323.8 971.8 1324.6 972.0 1325.4 972.3 1326.3 971.9 1327.1 971.3 1327.9 970.7 1328.7 970.4 1329.6 970.6 1330.4 971.0 1331.2 971.1 1332.1 970.7 1332.9 970.5 1333.7 970.4 1334.5 970.3 1335.4 970.6 1336.2 970.6 1337.0 970.5 1337.8 970.0 1338.7 969.7 1339.5 969.3 1340.3 968.8 1341.1 968.4 1342.0 968.2 1342.8 968.1 1343.6 968.0 1344.4 967.8 1345.3 967.6 1346.1 967.1 1346.9 966.6 1347.8 966.0 1348.6 965.9 1349.4 965.4 1350.2 965.1 1351.1 964.5 1351.9 964.2 1352.7 963.6 1353.5 962.8 1354.4 962.1 1355.2 961.6 1356.0 961.0 1356.8 959.8 1357.7 958.4 1358.5 957.5 1359.3 956.7 1360.1 955.7 1361.0 953.6 1361.8 952.0 1362.6 949.8 1363.5 947.5 1364.3 944.7 1365.1 941.5 1365.9 937.3 1366.8 932.0 1367.6 926.3 1368.4 919.5 1369.2 911.3 1370.1 901.7 1370.9 890.6 1371.7 877.4 1372.5 862.6 1373.4 845.5 1374.2 826.7 1375.0 806.1 1375.8 783.8 1376.7 759.5 1377.5 734.4 1378.3 709.8 1379.2 686.0 1380.0 663.8 1380.8 644.4 1381.6 629.4 1382.5 620.1 1383.3 616.8 1384.1 620.1 1384.9 629.3 1385.8 644.5 1386.6 663.5 1387.4 685.0 1388.2 707.2 1389.1 729.4 1389.9 751.7 1390.7 773.2 1391.6 793.6 1392.4 812.6 1393.2 829.7 1394.0 844.5 1394.9 857.7 1395.7 869.7 1396.5 880.2 1397.3 889.6 1398.2 898.2 1399.0 905.5 1399.8 911.5 1400.6 916.6 1401.5 921.0 1402.3 924.6 1403.1 928.1 1403.9 931.5 1404.8 934.3 1405.6 936.5 1406.4 938.6 1407.3 940.9 1408.1 942.7 1408.9 944.0 1409.7 945.1 1410.6 946.8 1411.4 948.4 1412.2 949.4 1413.0 950.1 1413.9 951.4 1414.7 952.2 1415.5 953.2 1416.3 953.9 1417.2 954.8 1418.0 955.5 1418.8 956.0 1419.6 956.3 1420.5 956.9 1421.3 957.6 1422.1 958.1 1423.0 958.8 1423.8 959.5 1424.6 959.7 1425.4 959.4 1426.3 959.5 1427.1 959.9 1427.9 960.2 1428.7 960.5 1429.6 960.6 1430.4 960.8 1431.2 961.0 1432.0 961.3 1432.9 961.7 1433.7 962.3 1434.5 962.2 1435.4 961.9 1436.2 962.0 1437.0 962.5 1437.8 962.7 1438.7 962.8 1439.5 963.1 1440.3 963.1 1441.1 963.5 1442.0 963.3 1442.8 963.4 1443.6 963.6 1444.4 964.1 1445.3 964.1 1446.1 963.8 1446.9 964.0 1447.7 964.0 1448.6 963.2 1449.4 963.0 1450.2 963.4 1451.1 964.2 1451.9 964.0 1452.7 964.5 1453.5 964.9 1454.4 964.8 1455.2 964.3 1456.0 963.8 1456.8 963.9 1457.7 964.1 1458.5 963.8 1459.3 963.6 1460.1 964.1 1461.0 964.8 1461.8 964.6 1462.6 964.3 1463.4 964.2 1464.3 964.4 1465.1 964.6 1465.9 964.0 1466.8 963.4 1467.6 964.2 1468.4 965.1 1469.2 965.4 1470.1 964.7 1470.9 964.6 1471.7 964.0 1472.5 963.8 1473.4 963.7 1474.2 964.1 1475.0 964.3 1475.8 964.5 1476.7 964.2 1477.5 964.0 1478.3 964.2 1479.1 964.3 1480.0 964.3 1480.8 964.3 1481.6 964.8 1482.5 965.0 1483.3 965.1 1484.1 965.5 1484.9 965.3 1485.8 964.8 1486.6 964.3 1487.4 964.3 1488.2 964.3 1489.1 964.2 1489.9 965.0 1490.7 965.3 1491.5 965.1 1492.4 964.2 1493.2 963.6 1494.0 963.4 1494.9 964.1 1495.7 965.2 1496.5 965.4 1497.3 965.0 1498.2 964.3 1499.0 964.4 1499.8 964.5 1500.6 965.0 1501.5 965.0 1502.3 965.0 1503.1 964.7 1503.9 964.6 1504.8 964.5 1505.6 964.6 1506.4 964.7 1507.2 964.5 1508.1 964.4 1508.9 964.6 1509.7 965.0 1510.6 964.7 1511.4 964.5 1512.2 964.3 1513.0 964.5 1513.9 964.6 1514.7 965.1 1515.5 965.2 1516.3 965.0 1517.2 964.7 1518.0 965.0 1518.8 965.3 1519.6 965.4 1520.5 964.8 1521.3 965.1 1522.1 965.3 1522.9 965.6 1523.8 965.0 1524.6 965.2 1525.4 965.1 1526.3 964.8 1527.1 964.6 1527.9 964.7 1528.7 964.9 1529.6 965.2 1530.4 965.3 1531.2 965.3 1532.0 965.4 1532.9 965.6 1533.7 965.6 1534.5 965.3 1535.3 965.3 1536.2 965.4 1537.0 965.4 1537.8 965.0 1538.7 964.7 1539.5 964.9 1540.3 965.2 1541.1 965.7 1542.0 965.9 1542.8 965.7 1543.6 965.5 1544.4 965.9 1545.3 966.3 1546.1 966.5 1546.9 966.3 1547.7 966.5 1548.6 966.6 1549.4 966.7 1550.2 966.4 1551.0 966.5 1551.9 966.5 1552.7 965.9 1553.5 965.8 1554.4 965.9 1555.2 966.3 1556.0 966.3 1556.8 966.8 1557.7 967.0 1558.5 966.7 1559.3 966.4 1560.1 966.4 1561.0 966.8 1561.8 967.3 1562.6 967.3 1563.4 967.0 1564.3 967.0 1565.1 967.3 1565.9 967.4 1566.7 966.8 1567.6 966.4 1568.4 966.6 1569.2 967.2 1570.1 967.4 1570.9 967.4 1571.7 967.4 1572.5 967.3 1573.4 966.8 1574.2 966.7 1575.0 967.1 1575.8 967.5 1576.7 967.9 1577.5 968.1 1578.3 968.4 1579.1 967.6 1580.0 967.3 1580.8 967.2 1581.6 967.8 1582.4 968.6 1583.3 968.7 1584.1 968.1 1584.9 967.7 1585.8 968.0 1586.6 968.1 1587.4 968.4 1588.2 968.5 1589.1 968.3 1589.9 967.9 1590.7 968.3 1591.5 968.5 1592.4 968.9 1593.2 969.1 1594.0 968.9 1594.8 968.9 1595.7 968.9 1596.5 969.1 1597.3 969.5 1598.2 969.9 1599.0 969.9 1599.8 969.5 1600.6 969.7 1601.5 969.5 1602.3 969.6 1603.1 969.4 1603.9 969.8 1604.8 969.8 1605.6 969.7 1606.4 969.4 1607.2 969.6 1608.1 970.2 1608.9 970.2 1609.7 969.8 1610.5 969.7 1611.4 970.0 1612.2 970.4 1613.0 970.7 1613.9 971.0 1614.7 970.8 1615.5 970.4 1616.3 970.5 1617.2 970.5 1618.0 970.4 1618.8 970.2 1619.6 970.3 1620.5 970.5 1621.3 970.7 1622.1 970.9 1622.9 970.9 1623.8 970.8 1624.6 971.1 1625.4 971.0 1626.2 971.2 1627.1 971.2 1627.9 971.8 1628.7 971.7 1629.6 971.3 1630.4 970.8 1631.2 970.8 1632.0 971.5 1632.9 972.1 1633.7 972.4 1634.5 972.3 1635.3 972.0 1636.2 971.7 1637.0 971.6 1637.8 971.8 1638.6 972.1 1639.5 972.5 1640.3 972.8 1641.1 972.6 1642.0 972.2 1642.8 972.0 1643.6 971.9 1644.4 972.3 1645.3 972.8 1646.1 972.9 1646.9 972.9 1647.7 973.1 1648.6 972.9 1649.4 972.3 1650.2 972.0 1651.0 972.3 1651.9 972.7 1652.7 972.7 1653.5 972.8 1654.3 972.8 1655.2 972.8 1656.0 972.7 1656.8 973.1 1657.7 973.5 1658.5 973.3 1659.3 973.0 1660.1 973.0 1661.0 973.1 1661.8 973.6 1662.6 974.0 1663.4 974.1 1664.3 973.9 1665.1 974.1 1665.9 974.5 1666.7 974.6 1667.6 974.3 1668.4 974.3 1669.2 974.1 1670.0 973.7 1670.9 973.4 1671.7 973.4 1672.5 973.6 1673.4 973.9 1674.2 974.4 1675.0 974.7 1675.8 974.3 1676.7 974.4 1677.5 974.1 1678.3 974.0 1679.1 974.3 1680.0 974.6 1680.8 974.3 1681.6 974.0 1682.4 974.1 1683.3 974.8 1684.1 974.8 1684.9 975.2 1685.7 974.9 1686.6 975.2 1687.4 975.7 1688.2 975.8 1689.1 974.7 1689.9 974.1 1690.7 974.3 1691.5 974.7 1692.4 974.7 1693.2 974.8 1694.0 974.5 1694.8 974.6 1695.7 974.9 1696.5 975.0 1697.3 975.1 1698.1 975.1 1699.0 974.5 1699.8 974.4 1700.6 974.6 1701.5 974.9 1702.3 974.8 1703.1 974.9 1703.9 974.8 1704.8 974.8 1705.6 974.8 1706.4 974.5 1707.2 974.5 1708.1 975.2 1708.9 976.0 1709.7 976.0 1710.5 975.7 1711.4 975.5 1712.2 975.9 1713.0 975.9 1713.8 976.0 1714.7 975.6 1715.5 975.6 1716.3 975.6 1717.2 975.9 1718.0 975.5 1718.8 975.7 1719.6 975.9 1720.5 976.0 1721.3 975.7 1722.1 975.6 1722.9 975.6 1723.8 975.8 1724.6 975.9 1725.4 975.8 1726.2 975.8 1727.1 975.9 1727.9 976.0 1728.7 976.0 1729.5 975.3 1730.4 975.3 1731.2 975.5 1732.0 975.7 1732.9 976.0 1733.7 976.0 1734.5 976.0 1735.3 976.0 1736.2 975.8 1737.0 975.3 1737.8 975.2 1738.6 975.7 1739.5 976.0 1740.3 976.0 1741.1 976.0 1741.9 976.0 1742.8 976.0 1743.6 976.0 1744.4 976.0 1745.3 976.0 1746.1 975.9 1746.9 975.7 1747.7 976.0 1748.6 976.0 1749.4 976.0 1750.2 976.0 1751.0 976.0 1751.9 976.0 1752.7 976.0 1753.5 976.0 1754.3 976.0 1755.2 976.0 1756.0 976.0 1756.8 976.0 1757.6 976.0 1758.5 976.0 1759.3 976.0 1760.1 976.0 1761.0 976.0 1761.8 976.0 1762.6 976.0 1763.4 975.9 1764.3 975.7 1765.1 976.0 1765.9 976.0 1766.7 976.0 1767.6 976.0 1768.4 976.0 1769.2 976.0 1770.0 976.0 1770.9 976.0 1771.7 976.0 1772.5 976.0 1773.3 976.0 1774.2 976.0 1775.0 976.0 1775.8 976.0 1776.7 975.7 1777.5 975.9" fill="none" stroke="#ff0000" stroke-width="2.8" stroke-linejoin="round"/>
<path d="M1199.0 974.3 1199.8 974.1 1200.7 974.5 1201.5 974.9 1202.3 974.9 1203.1 975.0 1204.0 975.1 1204.8 974.9 1205.6 975.0 1206.4 975.3 1207.3 975.4 1208.1 975.1 1208.9 975.1 1209.7 975.3 1210.6 975.1 1211.4 974.9 1212.2 974.7 1213.0 974.8 1213.9 974.8 1214.7 975.6 1215.5 975.9 1216.4 975.6 1217.2 975.1 1218.0 975.1 1218.8 975.1 1219.7 974.9 1220.5 975.1 1221.3 975.2 1222.1 975.2 1223.0 975.2 1223.8 975.5 1224.6 975.0 1225.4 974.4 1226.3 974.7 1227.1 975.1 1227.9 975.1 1228.8 974.6 1229.6 974.5 1230.4 974.6 1231.2 974.2 1232.1 973.9 1232.9 973.5 1233.7 973.5 1234.5 973.1 1235.4 972.5 1236.2 971.9 1237.0 971.5 1237.8 971.5 1238.7 971.3 1239.5 970.5 1240.3 969.7 1241.1 969.1 1242.0 968.9 1242.8 968.6 1243.6 968.0 1244.5 967.8 1245.3 967.0 1246.1 966.5 1246.9 965.8 1247.8 965.3 1248.6 964.4 1249.4 963.9 1250.2 963.8 1251.1 963.7 1251.9 963.2 1252.7 962.3 1253.5 961.6 1254.4 961.0 1255.2 961.0 1256.0 960.7 1256.8 960.5 1257.7 959.9 1258.5 959.3 1259.3 959.3 1260.2 959.4 1261.0 959.9 1261.8 959.9 1262.6 959.8 1263.5 959.6 1264.3 959.4 1265.1 959.2 1265.9 959.5 1266.8 959.2 1267.6 959.1 1268.4 959.4 1269.2 960.0 1270.1 959.6 1270.9 959.9 1271.7 961.1 1272.5 961.9 1273.4 961.8 1274.2 961.8 1275.0 962.4 1275.9 963.1 1276.7 963.2 1277.5 963.7 1278.3 964.5 1279.2 965.5 1280.0 965.3 1280.8 965.1 1281.6 965.1 1282.5 966.2 1283.3 967.0 1284.1 968.1 1284.9 968.7 1285.8 969.4 1286.6 969.8 1287.4 970.4 1288.3 970.6 1289.1 970.5 1289.9 970.5 1290.7 970.7 1291.6 971.4 1292.4 971.8 1293.2 972.1 1294.0 971.9 1294.9 972.4 1295.7 973.4 1296.5 974.1 1297.3 973.5 1298.2 972.8 1299.0 973.0 1299.8 973.5 1300.6 973.5 1301.5 973.5 1302.3 973.9 1303.1 974.2 1304.0 974.3 1304.8 974.3 1305.6 974.7 1306.4 974.8 1307.3 974.4 1308.1 974.0 1308.9 973.9 1309.7 974.1 1310.6 973.6 1311.4 973.5 1312.2 973.6 1313.0 973.6 1313.9 973.6 1314.7 973.9 1315.5 974.0 1316.3 973.6 1317.2 973.5 1318.0 973.7 1318.8 974.0 1319.7 974.3 1320.5 974.2 1321.3 974.0 1322.1 974.2 1323.0 974.5 1323.8 974.7 1324.6 974.6 1325.4 974.4 1326.3 974.1 1327.1 973.6 1327.9 973.7 1328.7 973.6 1329.6 973.5 1330.4 972.7 1331.2 972.4 1332.1 972.4 1332.9 972.7 1333.7 972.8 1334.5 972.5 1335.4 972.5 1336.2 972.4 1337.0 972.5 1337.8 972.2 1338.7 972.2 1339.5 971.6 1340.3 971.5 1341.1 971.5 1342.0 971.7 1342.8 971.2 1343.6 971.0 1344.4 970.8 1345.3 970.5 1346.1 970.7 1346.9 970.8 1347.8 971.0 1348.6 970.5 1349.4 970.4 1350.2 970.2 1351.1 969.9 1351.9 969.0 1352.7 968.3 1353.5 967.9 1354.4 967.6 1355.2 967.5 1356.0 967.7 1356.8 967.8 1357.7 967.0 1358.5 965.7 1359.3 964.5 1360.1 964.0 1361.0 963.2 1361.8 962.1 1362.6 960.7 1363.5 960.0 1364.3 958.5 1365.1 956.8 1365.9 955.2 1366.8 953.3 1367.6 950.7 1368.4 947.2 1369.2 943.0 1370.1 937.8 1370.9 932.2 1371.7 925.9 1372.5 918.3 1373.4 910.0 1374.2 900.4 1375.0 890.5 1375.8 879.3 1376.7 867.7 1377.5 855.3 1378.3 843.1 1379.2 831.5 1380.0 820.7 1380.8 810.8 1381.6 802.6 1382.5 797.8 1383.3 796.8 1384.1 798.7 1384.9 803.0 1385.8 810.0 1386.6 819.3 1387.4 829.7 1388.2 840.4 1389.1 851.5 1389.9 863.0 1390.7 874.0 1391.6 884.0 1392.4 893.2 1393.2 901.5 1394.0 908.7 1394.9 915.2 1395.7 921.1 1396.5 926.0 1397.3 930.3 1398.2 934.3 1399.0 937.8 1399.8 941.3 1400.6 944.5 1401.5 946.6 1402.3 948.4 1403.1 950.2 1403.9 951.8 1404.8 952.6 1405.6 953.5 1406.4 954.4 1407.3 955.7 1408.1 956.8 1408.9 957.5 1409.7 958.2 1410.6 958.8 1411.4 959.3 1412.2 960.0 1413.0 960.6 1413.9 961.0 1414.7 961.2 1415.5 962.1 1416.3 962.6 1417.2 963.1 1418.0 963.4 1418.8 964.0 1419.6 963.7 1420.5 963.4 1421.3 963.3 1422.1 963.7 1423.0 963.8 1423.8 964.0 1424.6 964.7 1425.4 964.9 1426.3 965.1 1427.1 964.9 1427.9 964.9 1428.7 965.2 1429.6 966.0 1430.4 966.4 1431.2 965.9 1432.0 965.4 1432.9 965.1 1433.7 965.8 1434.5 966.7 1435.4 967.0 1436.2 966.6 1437.0 966.1 1437.8 966.0 1438.7 965.9 1439.5 966.1 1440.3 966.5 1441.1 966.4 1442.0 966.1 1442.8 965.9 1443.6 965.5 1444.4 965.4 1445.3 965.6 1446.1 966.3 1446.9 966.4 1447.7 966.2 1448.6 965.8 1449.4 965.8 1450.2 965.9 1451.1 965.9 1451.9 966.3 1452.7 967.3 1453.5 966.9 1454.4 965.9 1455.2 965.3 1456.0 966.2 1456.8 966.8 1457.7 966.4 1458.5 966.5 1459.3 966.6 1460.1 966.5 1461.0 965.7 1461.8 965.5 1462.6 965.7 1463.4 965.3 1464.3 965.4 1465.1 966.0 1465.9 966.4 1466.8 965.8 1467.6 965.4 1468.4 965.3 1469.2 965.6 1470.1 966.0 1470.9 965.9 1471.7 965.3 1472.5 964.6 1473.4 965.0 1474.2 965.8 1475.0 966.4 1475.8 966.3 1476.7 965.9 1477.5 965.4 1478.3 965.7 1479.1 965.9 1480.0 965.9 1480.8 965.5 1481.6 965.6 1482.5 965.6 1483.3 965.5 1484.1 965.4 1484.9 965.3 1485.8 965.6 1486.6 965.6 1487.4 965.6 1488.2 965.9 1489.1 966.0 1489.9 965.8 1490.7 965.2 1491.5 965.3 1492.4 965.3 1493.2 965.4 1494.0 965.4 1494.9 965.5 1495.7 965.9 1496.5 965.6 1497.3 965.6 1498.2 965.5 1499.0 965.7 1499.8 965.2 1500.6 965.0 1501.5 965.0 1502.3 964.7 1503.1 964.8 1503.9 964.4 1504.8 964.7 1505.6 965.0 1506.4 965.6 1507.2 965.6 1508.1 965.6 1508.9 965.1 1509.7 965.1 1510.6 965.4 1511.4 965.6 1512.2 965.2 1513.0 964.7 1513.9 964.5 1514.7 964.6 1515.5 965.2 1516.3 965.4 1517.2 965.5 1518.0 965.8 1518.8 965.9 1519.6 965.8 1520.5 965.6 1521.3 965.7 1522.1 965.3 1522.9 965.0 1523.8 964.8 1524.6 965.3 1525.4 965.8 1526.3 966.1 1527.1 965.9 1527.9 965.7 1528.7 965.8 1529.6 965.6 1530.4 965.4 1531.2 965.7 1532.0 966.1 1532.9 966.3 1533.7 966.1 1534.5 966.2 1535.3 966.2 1536.2 966.0 1537.0 965.7 1537.8 966.0 1538.7 966.4 1539.5 966.3 1540.3 966.0 1541.1 965.7 1542.0 965.8 1542.8 966.3 1543.6 966.3 1544.4 966.0 1545.3 965.7 1546.1 966.0 1546.9 966.3 1547.7 966.6 1548.6 966.6 1549.4 966.2 1550.2 966.1 1551.0 966.9 1551.9 967.5 1552.7 967.2 1553.5 966.3 1554.4 966.0 1555.2 965.6 1556.0 965.5 1556.8 965.5 1557.7 965.9 1558.5 966.6 1559.3 966.9 1560.1 966.9 1561.0 966.7 1561.8 966.9 1562.6 966.9 1563.4 967.0 1564.3 967.2 1565.1 967.4 1565.9 967.3 1566.7 967.4 1567.6 967.3 1568.4 967.8 1569.2 967.9 1570.1 968.4 1570.9 968.2 1571.7 968.0 1572.5 967.6 1573.4 967.6 1574.2 967.8 1575.0 967.5 1575.8 967.6 1576.7 967.7 1577.5 968.3 1578.3 968.4 1579.1 968.5 1580.0 968.4 1580.8 968.3 1581.6 968.2 1582.4 968.3 1583.3 968.5 1584.1 968.8 1584.9 969.0 1585.8 969.2 1586.6 969.2 1587.4 968.6 1588.2 968.7 1589.1 968.3 1589.9 968.6 1590.7 968.2 1591.5 968.3 1592.4 968.3 1593.2 968.6 1594.0 968.6 1594.8 968.4 1595.7 968.2 1596.5 968.5 1597.3 969.3 1598.2 970.4 1599.0 970.6 1599.8 970.0 1600.6 969.3 1601.5 969.3 1602.3 969.6 1603.1 969.9 1603.9 970.1 1604.8 970.0 1605.6 970.2 1606.4 970.2 1607.2 970.5 1608.1 970.4 1608.9 970.6 1609.7 970.5 1610.5 970.7 1611.4 971.0 1612.2 971.0 1613.0 971.0 1613.9 970.3 1614.7 970.2 1615.5 970.3 1616.3 971.1 1617.2 971.3 1618.0 971.8 1618.8 971.9 1619.6 971.5 1620.5 971.3 1621.3 971.4 1622.1 971.7 1622.9 971.5 1623.8 971.4 1624.6 971.1 1625.4 971.0 1626.2 971.3 1627.1 971.3 1627.9 971.5 1628.7 971.4 1629.6 971.4 1630.4 971.4 1631.2 971.9 1632.0 972.1 1632.9 972.2 1633.7 972.3 1634.5 972.7 1635.3 972.3 1636.2 972.1 1637.0 972.4 1637.8 972.7 1638.6 972.0 1639.5 971.1 1640.3 971.4 1641.1 972.1 1642.0 972.4 1642.8 972.1 1643.6 972.1 1644.4 972.6 1645.3 972.8 1646.1 972.6 1646.9 972.7 1647.7 973.1 1648.6 973.2 1649.4 972.9 1650.2 972.7 1651.0 972.6 1651.9 972.6 1652.7 972.8 1653.5 973.3 1654.3 973.4 1655.2 973.0 1656.0 972.3 1656.8 972.4 1657.7 972.9 1658.5 973.1 1659.3 972.7 1660.1 972.7 1661.0 973.0 1661.8 973.5 1662.6 973.6 1663.4 973.8 1664.3 973.9 1665.1 974.0 1665.9 974.0 1666.7 974.5 1667.6 974.8 1668.4 974.6 1669.2 974.1 1670.0 974.0 1670.9 974.1 1671.7 973.9 1672.5 973.6 1673.4 973.9 1674.2 974.2 1675.0 974.5 1675.8 974.6 1676.7 975.0 1677.5 975.0 1678.3 974.9 1679.1 974.2 1680.0 974.1 1680.8 974.1 1681.6 974.7 1682.4 974.3 1683.3 974.4 1684.1 974.5 1684.9 975.1 1685.7 975.0 1686.6 975.0 1687.4 974.6 1688.2 974.8 1689.1 975.0 1689.9 974.8 1690.7 974.6 1691.5 974.8 1692.4 975.3 1693.2 975.9 1694.0 976.0 1694.8 975.4 1695.7 974.9 1696.5 975.4 1697.3 975.7 1698.1 975.5 1699.0 974.9 1699.8 974.7 1700.6 974.8 1701.5 975.1 1702.3 975.7 1703.1 975.5 1703.9 975.4 1704.8 974.9 1705.6 974.8 1706.4 975.0 1707.2 975.4 1708.1 975.8 1708.9 976.0 1709.7 976.0 1710.5 976.0 1711.4 975.8 1712.2 975.7 1713.0 975.6 1713.8 975.4 1714.7 975.7 1715.5 976.0 1716.3 976.0 1717.2 975.8 1718.0 975.4 1718.8 975.8 1719.6 976.0 1720.5 976.0 1721.3 976.0 1722.1 976.0 1722.9 976.0 1723.8 976.0 1724.6 976.0 1725.4 976.0 1726.2 976.0 1727.1 976.0 1727.9 976.0 1728.7 975.9 1729.5 975.4 1730.4 975.4 1731.2 975.7 1732.0 976.0 1732.9 976.0 1733.7 976.0 1734.5 975.4 1735.3 975.6 1736.2 976.0 1737.0 976.0 1737.8 976.0 1738.6 976.0 1739.5 976.0 1740.3 976.0 1741.1 976.0 1741.9 975.7 1742.8 975.9 1743.6 976.0 1744.4 976.0 1745.3 976.0 1746.1 976.0 1746.9 976.0 1747.7 975.8 1748.6 976.0 1749.4 976.0 1750.2 976.0 1751.0 976.0 1751.9 976.0 1752.7 976.0 1753.5 976.0 1754.3 976.0 1755.2 976.0 1756.0 975.9 1756.8 975.5 1757.6 975.4 1758.5 975.5 1759.3 976.0 1760.1 976.0 1761.0 976.0 1761.8 976.0 1762.6 976.0 1763.4 976.0 1764.3 976.0 1765.1 976.0 1765.9 976.0 1766.7 976.0 1767.6 976.0 1768.4 976.0 1769.2 976.0 1770.0 976.0 1770.9 976.0 1771.7 976.0 1772.5 976.0 1773.3 976.0 1774.2 976.0 1775.0 976.0 1775.8 976.0 1776.7 976.0 1777.5 976.0" fill="none" stroke="#ed7d31" stroke-width="2.8" stroke-linejoin="round"/>
<path d="M1199.0 975.1 1199.8 975.1 1200.7 974.7 1201.5 974.4 1202.3 974.6 1203.1 974.8 1204.0 975.0 1204.8 974.8 1205.6 975.0 1206.4 975.4 1207.3 975.4 1208.1 975.1 1208.9 975.1 1209.7 975.9 1210.6 976.0 1211.4 976.0 1212.2 976.0 1213.0 975.7 1213.9 975.1 1214.7 975.1 1215.5 975.1 1216.4 975.1 1217.2 975.1 1218.0 975.9 1218.8 976.0 1219.7 975.7 1220.5 974.8 1221.3 974.5 1222.1 974.5 1223.0 974.6 1223.8 975.0 1224.6 975.2 1225.4 975.5 1226.3 974.8 1227.1 974.4 1227.9 974.9 1228.8 975.1 1229.6 974.9 1230.4 974.0 1231.2 974.0 1232.1 973.6 1232.9 973.3 1233.7 972.8 1234.5 972.8 1235.4 972.4 1236.2 971.8 1237.0 971.3 1237.8 971.1 1238.7 970.8 1239.5 970.1 1240.3 969.5 1241.1 969.0 1242.0 968.8 1242.8 968.6 1243.6 968.5 1244.5 968.0 1245.3 967.1 1246.1 966.0 1246.9 965.4 1247.8 965.2 1248.6 965.0 1249.4 964.3 1250.2 963.3 1251.1 962.8 1251.9 962.8 1252.7 962.4 1253.5 962.0 1254.4 961.3 1255.2 961.4 1256.0 960.8 1256.8 960.6 1257.7 959.8 1258.5 959.2 1259.3 958.5 1260.2 958.8 1261.0 959.4 1261.8 959.7 1262.6 959.3 1263.5 958.8 1264.3 958.6 1265.1 958.8 1265.9 958.8 1266.8 958.8 1267.6 958.7 1268.4 959.0 1269.2 959.5 1270.1 960.5 1270.9 961.3 1271.7 961.8 1272.5 962.0 1273.4 962.1 1274.2 962.0 1275.0 962.3 1275.9 963.0 1276.7 963.8 1277.5 964.2 1278.3 964.7 1279.2 965.0 1280.0 965.4 1280.8 965.8 1281.6 966.2 1282.5 966.7 1283.3 967.3 1284.1 967.6 1284.9 968.0 1285.8 968.4 1286.6 969.2 1287.4 969.7 1288.3 970.5 1289.1 971.1 1289.9 971.4 1290.7 971.7 1291.6 972.0 1292.4 972.0 1293.2 972.1 1294.0 972.1 1294.9 972.5 1295.7 972.6 1296.5 973.2 1297.3 973.5 1298.2 973.2 1299.0 972.9 1299.8 973.0 1300.6 973.7 1301.5 973.8 1302.3 974.4 1303.1 974.8 1304.0 975.0 1304.8 974.5 1305.6 974.5 1306.4 974.8 1307.3 975.0 1308.1 975.0 1308.9 975.3 1309.7 975.6 1310.6 975.6 1311.4 975.6 1312.2 975.7 1313.0 975.7 1313.9 975.5 1314.7 975.3 1315.5 975.1 1316.3 975.0 1317.2 975.2 1318.0 975.3 1318.8 975.1 1319.7 974.7 1320.5 974.6 1321.3 974.7 1322.1 974.6 1323.0 974.4 1323.8 974.1 1324.6 974.1 1325.4 974.1 1326.3 974.3 1327.1 974.2 1327.9 974.5 1328.7 974.5 1329.6 974.2 1330.4 973.9 1331.2 974.0 1332.1 974.0 1332.9 974.1 1333.7 974.1 1334.5 974.3 1335.4 974.2 1336.2 974.4 1337.0 974.1 1337.8 973.8 1338.7 973.4 1339.5 973.4 1340.3 973.4 1341.1 973.2 1342.0 973.1 1342.8 973.2 1343.6 972.7 1344.4 972.3 1345.3 972.0 1346.1 972.5 1346.9 972.5 1347.8 972.6 1348.6 972.3 1349.4 972.4 1350.2 971.6 1351.1 971.7 1351.9 971.3 1352.7 971.1 1353.5 971.0 1354.4 971.3 1355.2 970.8 1356.0 969.8 1356.8 969.9 1357.7 970.2 1358.5 970.3 1359.3 969.9 1360.1 969.5 1361.0 968.4 1361.8 967.4 1362.6 966.9 1363.5 966.7 1364.3 965.8 1365.1 964.6 1365.9 963.6 1366.8 962.2 1367.6 960.8 1368.4 958.9 1369.2 956.8 1370.1 953.5 1370.9 950.3 1371.7 946.9 1372.5 942.8 1373.4 937.8 1374.2 932.5 1375.0 926.8 1375.8 920.8 1376.7 914.4 1377.5 907.7 1378.3 900.9 1379.2 894.2 1380.0 888.6 1380.8 883.7 1381.6 879.5 1382.5 876.1 1383.3 875.1 1384.1 876.3 1384.9 878.6 1385.8 882.6 1386.6 887.7 1387.4 893.7 1388.2 899.8 1389.1 906.2 1389.9 912.1 1390.7 918.0 1391.6 923.7 1392.4 928.7 1393.2 933.2 1394.0 937.7 1394.9 941.4 1395.7 944.2 1396.5 946.8 1397.3 949.4 1398.2 951.7 1399.0 953.0 1399.8 954.6 1400.6 956.2 1401.5 958.4 1402.3 959.4 1403.1 959.8 1403.9 960.2 1404.8 960.8 1405.6 961.8 1406.4 962.1 1407.3 962.5 1408.1 963.2 1408.9 963.9 1409.7 964.3 1410.6 964.3 1411.4 964.6 1412.2 964.8 1413.0 965.1 1413.9 965.5 1414.7 966.2 1415.5 966.2 1416.3 966.0 1417.2 965.9 1418.0 966.3 1418.8 966.9 1419.6 967.4 1420.5 967.1 1421.3 966.7 1422.1 966.8 1423.0 967.4 1423.8 967.5 1424.6 967.5 1425.4 967.3 1426.3 967.2 1427.1 967.3 1427.9 967.4 1428.7 967.5 1429.6 967.2 1430.4 967.1 1431.2 966.8 1432.0 966.7 1432.9 966.8 1433.7 967.3 1434.5 967.2 1435.4 967.3 1436.2 967.7 1437.0 968.2 1437.8 967.8 1438.7 967.5 1439.5 967.2 1440.3 967.1 1441.1 967.3 1442.0 967.7 1442.8 967.2 1443.6 966.9 1444.4 967.3 1445.3 967.6 1446.1 967.0 1446.9 966.4 1447.7 966.6 1448.6 966.9 1449.4 967.0 1450.2 966.6 1451.1 966.1 1451.9 966.1 1452.7 966.2 1453.5 966.6 1454.4 966.6 1455.2 967.0 1456.0 967.2 1456.8 967.2 1457.7 967.0 1458.5 966.7 1459.3 966.8 1460.1 966.7 1461.0 966.8 1461.8 966.7 1462.6 966.7 1463.4 966.4 1464.3 965.6 1465.1 965.7 1465.9 966.1 1466.8 966.7 1467.6 966.7 1468.4 966.7 1469.2 966.7 1470.1 966.6 1470.9 966.3 1471.7 966.4 1472.5 966.6 1473.4 966.6 1474.2 966.3 1475.0 966.3 1475.8 966.2 1476.7 966.1 1477.5 965.9 1478.3 966.2 1479.1 966.1 1480.0 966.3 1480.8 966.2 1481.6 966.5 1482.5 966.4 1483.3 966.0 1484.1 966.2 1484.9 966.3 1485.8 966.5 1486.6 965.8 1487.4 965.8 1488.2 965.7 1489.1 966.2 1489.9 966.1 1490.7 966.2 1491.5 965.7 1492.4 965.9 1493.2 966.4 1494.0 966.9 1494.9 966.4 1495.7 965.7 1496.5 965.6 1497.3 965.8 1498.2 965.9 1499.0 965.9 1499.8 966.4 1500.6 966.0 1501.5 965.2 1502.3 965.1 1503.1 965.5 1503.9 965.6 1504.8 964.9 1505.6 965.4 1506.4 965.9 1507.2 966.1 1508.1 965.8 1508.9 965.9 1509.7 965.9 1510.6 965.4 1511.4 965.6 1512.2 965.6 1513.0 965.9 1513.9 965.7 1514.7 965.7 1515.5 965.6 1516.3 966.1 1517.2 965.9 1518.0 965.4 1518.8 964.9 1519.6 965.4 1520.5 965.9 1521.3 965.7 1522.1 965.2 1522.9 965.4 1523.8 965.9 1524.6 966.0 1525.4 965.9 1526.3 966.1 1527.1 965.9 1527.9 965.6 1528.7 965.5 1529.6 966.2 1530.4 966.6 1531.2 966.5 1532.0 966.0 1532.9 965.9 1533.7 965.7 1534.5 965.8 1535.3 966.0 1536.2 966.9 1537.0 967.4 1537.8 967.5 1538.7 966.9 1539.5 966.5 1540.3 965.9 1541.1 965.8 1542.0 966.3 1542.8 966.2 1543.6 965.9 1544.4 965.9 1545.3 966.5 1546.1 966.9 1546.9 966.8 1547.7 966.6 1548.6 966.0 1549.4 965.8 1550.2 965.8 1551.0 965.9 1551.9 966.2 1552.7 966.7 1553.5 967.0 1554.4 967.2 1555.2 967.3 1556.0 967.3 1556.8 966.9 1557.7 966.9 1558.5 967.3 1559.3 967.6 1560.1 967.2 1561.0 967.1 1561.8 967.6 1562.6 967.9 1563.4 967.7 1564.3 967.8 1565.1 967.8 1565.9 967.8 1566.7 967.8 1567.6 967.6 1568.4 967.7 1569.2 967.9 1570.1 967.7 1570.9 967.4 1571.7 967.5 1572.5 967.6 1573.4 967.6 1574.2 967.6 1575.0 967.6 1575.8 967.9 1576.7 968.1 1577.5 968.0 1578.3 967.6 1579.1 967.9 1580.0 968.2 1580.8 968.0 1581.6 967.8 1582.4 967.8 1583.3 967.8 1584.1 967.9 1584.9 968.2 1585.8 968.5 1586.6 968.4 1587.4 968.5 1588.2 968.7 1589.1 969.0 1589.9 969.1 1590.7 968.9 1591.5 968.8 1592.4 969.1 1593.2 969.5 1594.0 969.6 1594.8 969.2 1595.7 969.1 1596.5 968.7 1597.3 968.4 1598.2 968.6 1599.0 969.2 1599.8 969.1 1600.6 969.0 1601.5 969.7 1602.3 970.2 1603.1 970.2 1603.9 969.4 1604.8 969.7 1605.6 969.7 1606.4 970.0 1607.2 969.6 1608.1 970.0 1608.9 970.1 1609.7 970.0 1610.5 970.0 1611.4 969.9 1612.2 970.1 1613.0 970.4 1613.9 970.8 1614.7 970.9 1615.5 970.9 1616.3 970.6 1617.2 970.7 1618.0 971.3 1618.8 971.7 1619.6 971.0 1620.5 970.3 1621.3 970.1 1622.1 970.3 1622.9 970.7 1623.8 971.2 1624.6 972.0 1625.4 972.2 1626.2 972.0 1627.1 971.8 1627.9 972.3 1628.7 972.8 1629.6 972.4 1630.4 971.7 1631.2 970.8 1632.0 970.5 1632.9 971.2 1633.7 972.5 1634.5 972.9 1635.3 972.2 1636.2 972.1 1637.0 972.5 1637.8 972.8 1638.6 972.5 1639.5 972.4 1640.3 972.3 1641.1 972.0 1642.0 972.0 1642.8 972.1 1643.6 971.9 1644.4 972.1 1645.3 972.7 1646.1 973.1 1646.9 972.4 1647.7 972.1 1648.6 972.1 1649.4 972.6 1650.2 972.6 1651.0 972.9 1651.9 972.9 1652.7 972.9 1653.5 972.8 1654.3 972.7 1655.2 972.5 1656.0 972.8 1656.8 973.0 1657.7 973.6 1658.5 973.5 1659.3 972.9 1660.1 972.3 1661.0 972.6 1661.8 973.3 1662.6 973.3 1663.4 973.5 1664.3 973.5 1665.1 973.7 1665.9 973.8 1666.7 974.0 1667.6 973.9 1668.4 974.2 1669.2 974.0 1670.0 973.7 1670.9 973.9 1671.7 974.2 1672.5 973.7 1673.4 970.2 1674.2 966.7 1675.0 970.5 1675.8 974.5 1676.7 975.3 1677.5 974.9 1678.3 974.1 1679.1 974.2 1680.0 974.5 1680.8 974.6 1681.6 974.5 1682.4 974.6 1683.3 974.6 1684.1 974.8 1684.9 974.5 1685.7 974.6 1686.6 974.6 1687.4 975.0 1688.2 975.0 1689.1 974.9 1689.9 974.6 1690.7 974.1 1691.5 974.1 1692.4 974.5 1693.2 974.8 1694.0 975.1 1694.8 975.2 1695.7 975.2 1696.5 974.8 1697.3 975.1 1698.1 975.7 1699.0 975.5 1699.8 975.1 1700.6 975.4 1701.5 976.0 1702.3 976.0 1703.1 975.3 1703.9 975.0 1704.8 974.8 1705.6 975.0 1706.4 975.0 1707.2 975.0 1708.1 975.1 1708.9 975.3 1709.7 975.6 1710.5 975.7 1711.4 975.7 1712.2 975.7 1713.0 975.7 1713.8 975.9 1714.7 975.9 1715.5 976.0 1716.3 975.6 1717.2 975.5 1718.0 975.4 1718.8 975.3 1719.6 975.9 1720.5 976.0 1721.3 976.0 1722.1 976.0 1722.9 976.0 1723.8 975.6 1724.6 975.6 1725.4 975.9 1726.2 975.7 1727.1 975.6 1727.9 975.6 1728.7 976.0 1729.5 976.0 1730.4 976.0 1731.2 976.0 1732.0 976.0 1732.9 976.0 1733.7 976.0 1734.5 976.0 1735.3 976.0 1736.2 976.0 1737.0 976.0 1737.8 976.0 1738.6 976.0 1739.5 976.0 1740.3 976.0 1741.1 976.0 1741.9 976.0 1742.8 976.0 1743.6 976.0 1744.4 976.0 1745.3 976.0 1746.1 976.0 1746.9 975.5 1747.7 975.8 1748.6 976.0 1749.4 976.0 1750.2 976.0 1751.0 976.0 1751.9 976.0 1752.7 976.0 1753.5 976.0 1754.3 976.0 1755.2 976.0 1756.0 976.0 1756.8 976.0 1757.6 976.0 1758.5 976.0 1759.3 976.0 1760.1 976.0 1761.0 976.0 1761.8 976.0 1762.6 976.0 1763.4 976.0 1764.3 976.0 1765.1 975.8 1765.9 976.0 1766.7 976.0 1767.6 976.0 1768.4 976.0 1769.2 976.0 1770.0 976.0 1770.9 976.0 1771.7 976.0 1772.5 976.0 1773.3 976.0 1774.2 976.0 1775.0 976.0 1775.8 976.0 1776.7 976.0 1777.5 976.0" fill="none" stroke="#0070c0" stroke-width="2.8" stroke-linejoin="round"/>
<path d="M1199.0 975.1 1199.8 975.1 1200.7 975.3 1201.5 975.1 1202.3 975.4 1203.1 975.4 1204.0 975.6 1204.8 975.6 1205.6 975.7 1206.4 975.5 1207.3 975.2 1208.1 975.5 1208.9 975.6 1209.7 975.4 1210.6 975.2 1211.4 975.0 1212.2 975.0 1213.0 975.0 1213.9 975.1 1214.7 975.4 1215.5 975.9 1216.4 976.0 1217.2 975.8 1218.0 975.3 1218.8 975.1 1219.7 975.2 1220.5 975.6 1221.3 975.8 1222.1 976.0 1223.0 976.0 1223.8 975.7 1224.6 975.6 1225.4 975.6 1226.3 975.6 1227.1 975.5 1227.9 975.4 1228.8 975.7 1229.6 975.5 1230.4 975.1 1231.2 974.4 1232.1 974.2 1232.9 974.3 1233.7 973.7 1234.5 973.2 1235.4 972.6 1236.2 973.2 1237.0 972.9 1237.8 972.3 1238.7 971.7 1239.5 971.4 1240.3 970.8 1241.1 970.3 1242.0 970.3 1242.8 969.9 1243.6 969.2 1244.5 968.6 1245.3 968.0 1246.1 967.4 1246.9 967.1 1247.8 967.1 1248.6 966.8 1249.4 966.3 1250.2 965.8 1251.1 965.4 1251.9 965.2 1252.7 964.7 1253.5 964.1 1254.4 963.5 1255.2 963.1 1256.0 962.8 1256.8 962.5 1257.7 962.5 1258.5 962.4 1259.3 962.1 1260.2 962.2 1261.0 962.1 1261.8 961.4 1262.6 961.1 1263.5 961.2 1264.3 962.1 1265.1 961.9 1265.9 961.8 1266.8 961.1 1267.6 961.5 1268.4 962.5 1269.2 963.4 1270.1 963.3 1270.9 963.3 1271.7 963.3 1272.5 963.7 1273.4 963.9 1274.2 964.2 1275.0 964.6 1275.9 965.4 1276.7 965.8 1277.5 966.6 1278.3 966.7 1279.2 967.3 1280.0 967.3 1280.8 968.1 1281.6 968.5 1282.5 968.9 1283.3 969.3 1284.1 969.9 1284.9 970.1 1285.8 970.5 1286.6 970.4 1287.4 970.9 1288.3 971.4 1289.1 971.9 1289.9 972.0 1290.7 972.3 1291.6 972.9 1292.4 973.0 1293.2 973.1 1294.0 973.7 1294.9 974.2 1295.7 974.3 1296.5 975.0 1297.3 975.7 1298.2 975.4 1299.0 974.7 1299.8 974.4 1300.6 974.5 1301.5 975.0 1302.3 975.2 1303.1 975.0 1304.0 974.9 1304.8 975.1 1305.6 975.3 1306.4 975.3 1307.3 975.4 1308.1 975.7 1308.9 975.6 1309.7 975.7 1310.6 975.5 1311.4 975.9 1312.2 975.7 1313.0 975.5 1313.9 975.4 1314.7 975.2 1315.5 975.1 1316.3 975.3 1317.2 976.0 1318.0 976.0 1318.8 976.0 1319.7 975.9 1320.5 976.0 1321.3 975.8 1322.1 975.3 1323.0 974.6 1323.8 974.4 1324.6 974.9 1325.4 975.3 1326.3 975.8 1327.1 975.6 1327.9 975.4 1328.7 975.2 1329.6 975.4 1330.4 975.5 1331.2 975.5 1332.1 975.2 1332.9 974.3 1333.7 973.8 1334.5 974.0 1335.4 974.6 1336.2 974.9 1337.0 974.6 1337.8 974.5 1338.7 974.5 1339.5 974.9 1340.3 974.7 1341.1 974.7 1342.0 974.6 1342.8 974.9 1343.6 975.0 1344.4 974.7 1345.3 974.5 1346.1 974.8 1346.9 974.7 1347.8 974.2 1348.6 973.9 1349.4 974.6 1350.2 974.8 1351.1 975.1 1351.9 975.0 1352.7 974.9 1353.5 974.2 1354.4 974.1 1355.2 974.5 1356.0 974.8 1356.8 974.4 1357.7 974.4 1358.5 973.8 1359.3 973.3 1360.1 973.1 1361.0 973.7 1361.8 973.3 1362.6 972.4 1363.5 972.3 1364.3 972.8 1365.1 972.8 1365.9 972.7 1366.8 972.9 1367.6 972.6 1368.4 972.1 1369.2 972.0 1370.1 972.2 1370.9 971.9 1371.7 971.1 1372.5 970.4 1373.4 970.0 1374.2 969.7 1375.0 968.4 1375.8 967.2 1376.7 966.5 1377.5 966.0 1378.3 965.1 1379.2 964.1 1380.0 963.8 1380.8 963.3 1381.6 962.7 1382.5 961.8 1383.3 962.0 1384.1 961.9 1384.9 962.3 1385.8 962.9 1386.6 963.5 1387.4 963.9 1388.2 964.3 1389.1 965.3 1389.9 965.6 1390.7 966.0 1391.6 966.3 1392.4 966.9 1393.2 968.1 1394.0 969.3 1394.9 969.8 1395.7 969.8 1396.5 969.7 1397.3 969.9 1398.2 970.2 1399.0 970.9 1399.8 971.3 1400.6 971.3 1401.5 971.2 1402.3 970.8 1403.1 970.3 1403.9 970.5 1404.8 971.0 1405.6 970.9 1406.4 970.4 1407.3 970.3 1408.1 971.2 1408.9 971.8 1409.7 971.7 1410.6 971.3 1411.4 970.7 1412.2 970.5 1413.0 970.4 1413.9 971.0 1414.7 971.4 1415.5 971.6 1416.3 971.4 1417.2 971.2 1418.0 970.9 1418.8 970.7 1419.6 970.4 1420.5 970.7 1421.3 970.8 1422.1 970.8 1423.0 970.1 1423.8 970.1 1424.6 970.2 1425.4 970.6 1426.3 970.5 1427.1 970.4 1427.9 970.3 1428.7 970.5 1429.6 970.6 1430.4 970.2 1431.2 970.3 1432.0 970.2 1432.9 970.2 1433.7 969.6 1434.5 969.3 1435.4 969.3 1436.2 969.9 1437.0 969.7 1437.8 969.2 1438.7 969.0 1439.5 969.6 1440.3 969.8 1441.1 969.7 1442.0 969.4 1442.8 969.5 1443.6 969.5 1444.4 969.3 1445.3 969.4 1446.1 969.5 1446.9 969.4 1447.7 969.1 1448.6 969.3 1449.4 969.2 1450.2 969.7 1451.1 969.6 1451.9 969.8 1452.7 969.5 1453.5 970.0 1454.4 969.8 1455.2 969.5 1456.0 968.7 1456.8 968.4 1457.7 968.7 1458.5 968.6 1459.3 968.3 1460.1 968.3 1461.0 969.0 1461.8 969.4 1462.6 969.1 1463.4 968.8 1464.3 969.2 1465.1 969.2 1465.9 969.0 1466.8 968.7 1467.6 968.7 1468.4 968.5 1469.2 968.1 1470.1 968.1 1470.9 968.1 1471.7 968.1 1472.5 967.9 1473.4 967.9 1474.2 968.6 1475.0 969.0 1475.8 968.6 1476.7 968.2 1477.5 967.7 1478.3 967.6 1479.1 967.6 1480.0 967.9 1480.8 968.1 1481.6 968.2 1482.5 968.4 1483.3 968.7 1484.1 969.2 1484.9 968.8 1485.8 968.2 1486.6 967.9 1487.4 968.3 1488.2 968.5 1489.1 968.2 1489.9 967.7 1490.7 967.7 1491.5 967.6 1492.4 967.5 1493.2 967.5 1494.0 967.6 1494.9 967.9 1495.7 967.9 1496.5 968.2 1497.3 968.1 1498.2 968.3 1499.0 968.0 1499.8 967.7 1500.6 967.5 1501.5 967.5 1502.3 967.2 1503.1 966.8 1503.9 966.6 1504.8 966.9 1505.6 967.3 1506.4 967.8 1507.2 967.9 1508.1 967.6 1508.9 967.2 1509.7 967.7 1510.6 967.3 1511.4 967.5 1512.2 967.3 1513.0 967.6 1513.9 967.6 1514.7 967.9 1515.5 968.5 1516.3 968.6 1517.2 968.9 1518.0 968.4 1518.8 967.9 1519.6 967.6 1520.5 967.4 1521.3 967.0 1522.1 966.9 1522.9 967.4 1523.8 967.8 1524.6 967.9 1525.4 967.6 1526.3 967.3 1527.1 967.4 1527.9 967.8 1528.7 967.7 1529.6 967.7 1530.4 967.7 1531.2 967.8 1532.0 967.4 1532.9 967.1 1533.7 967.5 1534.5 968.0 1535.3 968.0 1536.2 967.8 1537.0 967.7 1537.8 967.7 1538.7 967.5 1539.5 967.7 1540.3 967.8 1541.1 967.8 1542.0 968.1 1542.8 968.5 1543.6 968.9 1544.4 968.2 1545.3 967.8 1546.1 967.6 1546.9 967.9 1547.7 968.2 1548.6 968.5 1549.4 968.4 1550.2 968.3 1551.0 967.9 1551.9 967.9 1552.7 967.9 1553.5 968.4 1554.4 968.5 1555.2 968.5 1556.0 968.2 1556.8 967.6 1557.7 967.8 1558.5 968.4 1559.3 968.6 1560.1 968.6 1561.0 968.9 1561.8 969.2 1562.6 969.6 1563.4 969.5 1564.3 969.2 1565.1 968.8 1565.9 968.9 1566.7 968.9 1567.6 968.4 1568.4 968.3 1569.2 968.3 1570.1 968.9 1570.9 969.0 1571.7 969.3 1572.5 969.3 1573.4 969.6 1574.2 969.8 1575.0 969.7 1575.8 969.3 1576.7 969.0 1577.5 969.3 1578.3 969.6 1579.1 970.2 1580.0 970.1 1580.8 970.0 1581.6 969.5 1582.4 969.4 1583.3 969.5 1584.1 969.5 1584.9 969.8 1585.8 969.7 1586.6 970.0 1587.4 970.0 1588.2 969.8 1589.1 969.8 1589.9 970.2 1590.7 970.6 1591.5 970.4 1592.4 969.7 1593.2 969.6 1594.0 970.4 1594.8 971.3 1595.7 971.5 1596.5 971.3 1597.3 971.1 1598.2 971.0 1599.0 971.1 1599.8 971.6 1600.6 971.4 1601.5 971.4 1602.3 970.8 1603.1 970.6 1603.9 970.6 1604.8 971.1 1605.6 971.4 1606.4 971.0 1607.2 971.3 1608.1 971.6 1608.9 971.3 1609.7 970.8 1610.5 970.9 1611.4 971.4 1612.2 971.7 1613.0 971.7 1613.9 971.5 1614.7 971.3 1615.5 971.4 1616.3 971.3 1617.2 971.8 1618.0 972.1 1618.8 972.3 1619.6 971.9 1620.5 972.2 1621.3 972.4 1622.1 972.2 1622.9 972.0 1623.8 972.0 1624.6 972.3 1625.4 972.4 1626.2 972.3 1627.1 972.8 1627.9 973.3 1628.7 973.2 1629.6 972.6 1630.4 972.0 1631.2 972.2 1632.0 972.2 1632.9 972.3 1633.7 972.1 1634.5 972.7 1635.3 973.0 1636.2 972.8 1637.0 972.6 1637.8 972.7 1638.6 972.8 1639.5 972.3 1640.3 972.6 1641.1 973.2 1642.0 973.5 1642.8 972.8 1643.6 972.1 1644.4 972.2 1645.3 972.7 1646.1 973.1 1646.9 972.8 1647.7 973.0 1648.6 973.1 1649.4 973.5 1650.2 974.1 1651.0 974.8 1651.9 974.6 1652.7 973.7 1653.5 973.9 1654.3 974.6 1655.2 974.8 1656.0 975.0 1656.8 974.7 1657.7 974.2 1658.5 974.2 1659.3 974.4 1660.1 974.5 1661.0 973.6 1661.8 973.6 1662.6 973.8 1663.4 974.1 1664.3 974.0 1665.1 973.9 1665.9 974.0 1666.7 974.5 1667.6 974.6 1668.4 974.5 1669.2 973.9 1670.0 973.9 1670.9 974.1 1671.7 974.7 1672.5 974.6 1673.4 974.5 1674.2 974.6 1675.0 974.5 1675.8 973.9 1676.7 973.9 1677.5 974.7 1678.3 974.9 1679.1 974.8 1680.0 974.2 1680.8 974.2 1681.6 974.1 1682.4 974.9 1683.3 975.1 1684.1 975.0 1684.9 974.6 1685.7 974.8 1686.6 974.6 1687.4 974.3 1688.2 974.4 1689.1 975.1 1689.9 975.4 1690.7 975.1 1691.5 975.0 1692.4 975.1 1693.2 975.6 1694.0 975.2 1694.8 975.1 1695.7 974.9 1696.5 975.0 1697.3 975.1 1698.1 975.3 1699.0 975.1 1699.8 975.3 1700.6 975.4 1701.5 974.7 1702.3 974.4 1703.1 974.7 1703.9 975.7 1704.8 975.7 1705.6 975.9 1706.4 975.5 1707.2 975.5 1708.1 975.8 1708.9 975.8 1709.7 975.7 1710.5 975.8 1711.4 976.0 1712.2 976.0 1713.0 975.9 1713.8 975.9 1714.7 975.8 1715.5 975.8 1716.3 976.0 1717.2 975.9 1718.0 976.0 1718.8 975.9 1719.6 975.8 1720.5 975.6 1721.3 976.0 1722.1 976.0 1722.9 976.0 1723.8 976.0 1724.6 975.9 1725.4 975.8 1726.2 976.0 1727.1 976.0 1727.9 975.7 1728.7 975.7 1729.5 975.9 1730.4 976.0 1731.2 975.9 1732.0 975.6 1732.9 975.7 1733.7 976.0 1734.5 976.0 1735.3 976.0 1736.2 975.7 1737.0 975.6 1737.8 975.8 1738.6 975.9 1739.5 976.0 1740.3 976.0 1741.1 976.0 1741.9 976.0 1742.8 976.0 1743.6 976.0 1744.4 976.0 1745.3 976.0 1746.1 976.0 1746.9 976.0 1747.7 975.9 1748.6 975.9 1749.4 976.0 1750.2 976.0 1751.0 976.0 1751.9 976.0 1752.7 976.0 1753.5 976.0 1754.3 976.0 1755.2 976.0 1756.0 976.0 1756.8 976.0 1757.6 976.0 1758.5 976.0 1759.3 976.0 1760.1 976.0 1761.0 976.0 1761.8 976.0 1762.6 976.0 1763.4 976.0 1764.3 976.0 1765.1 976.0 1765.9 975.8 1766.7 976.0 1767.6 976.0 1768.4 976.0 1769.2 976.0 1770.0 976.0 1770.9 976.0 1771.7 976.0 1772.5 976.0 1773.3 976.0 1774.2 976.0 1775.0 976.0 1775.8 976.0 1776.7 976.0 1777.5 976.0" fill="none" stroke="#7030a0" stroke-width="2.8" stroke-linejoin="round"/>
</g>
<path d="M1198.2 571.1V976.9H1777.6V571.1H1198.2" fill="none" stroke="#111" stroke-width="2.2"/>
<path d="M1198.2 936.4h7M1198.2 895.9h7M1198.2 855.4h7M1198.2 814.9h7M1198.2 774.4h7M1198.2 733.9h7M1198.2 693.4h7M1198.2 652.9h7M1198.2 612.4h7M1281.6 976.9v-7M1364.3 976.9v-7M1446.9 976.9v-7M1529.6 976.9v-7M1612.2 976.9v-7M1694.8 976.9v-7" stroke="#111" stroke-width="2" fill="none"/>
<text transform="translate(1155.62 586.04) scale(1.0496 1)" font-size="25.77" fill="#000">50</text>
<text transform="translate(1156.17 663.75) scale(1.0411 1)" font-size="25.49" fill="#000">40</text>
<text transform="translate(1155.62 742.04) scale(1.0554 1)" font-size="25.63" fill="#000">30</text>
<text transform="translate(1156.28 819.94) scale(1.0202 1)" font-size="25.92" fill="#000">20</text>
<text transform="translate(1155.57 897.55) scale(1.0630 1)" font-size="25.49" fill="#000">10</text>
<text transform="translate(1162.53 974.45) scale(1.1700 1)" font-size="24.93" fill="#000">0</text>
<text transform="translate(1181.52 1005.70) scale(1.0818 1)" font-size="25.00" fill="#000">300</text>
<text transform="translate(1262.26 1005.70) scale(1.0832 1)" font-size="25.00" fill="#000">400</text>
<text transform="translate(1341.20 1005.70) scale(1.0969 1)" font-size="25.00" fill="#000">500</text>
<text transform="translate(1422.77 1005.70) scale(1.0658 1)" font-size="25.00" fill="#000">600</text>
<text transform="translate(1504.09 1005.70) scale(1.0481 1)" font-size="25.00" fill="#000">700</text>
<text transform="translate(1582.99 1005.70) scale(1.0726 1)" font-size="25.00" fill="#000">800</text>
<text transform="translate(1663.92 1005.70) scale(1.0473 1)" font-size="25.00" fill="#000">900</text>
<text transform="translate(1742.98 1005.00) scale(1.1297 1)" font-size="23.86" fill="#000">1000</text>
<text transform="translate(1371.24 1041.80) scale(1.0740 1)" font-size="29.42" fill="#000">Wavelength (nm)</text>
<text transform="translate(1140.70 869.70) rotate(-90) translate(-2.86 0) scale(1.1139 1)" font-size="28.55" fill="#000">Intensity (a.u.)</text>
<text transform="translate(1208.27 603.88) scale(1.0182 1)" font-size="34.87" fill="#000">(k)</text>
<text transform="translate(1338.97 605.40) scale(1.0402 1)" font-size="27.97" fill="#000">Peak2</text>
<text transform="translate(1225.85 939.00) scale(1.0488 1)" font-size="27.97" fill="#000">Peak1</text>
<text transform="translate(1472.93 951.00) scale(1.0382 1)" font-size="28.55" fill="#000">Broad Peak</text>
<rect x="1220.7" y="639.1" width="34.8" height="16.7" fill="#ff0000"/>
<rect x="1220.7" y="663.3" width="34.8" height="16.1" fill="#ed7d31"/>
<rect x="1220.7" y="688.4" width="34.8" height="17.4" fill="#0070c0"/>
<rect x="1220.7" y="713.7" width="34.8" height="17.2" fill="#7030a0"/>
<text transform="translate(1267.08 651.50) scale(1.1332 1)" font-size="23.86" fill="#000">Spot 1</text>
<text transform="translate(1267.08 677.70) scale(1.1776 1)" font-size="23.00" fill="#000">Spot 2</text>
<text transform="translate(1267.10 703.40) scale(1.1577 1)" font-size="23.00" fill="#000">Spots</text>
<text transform="translate(1265.85 731.30) scale(1.2279 1)" font-size="24.93" fill="#000">Matrix</text></svg>
</body></html>
